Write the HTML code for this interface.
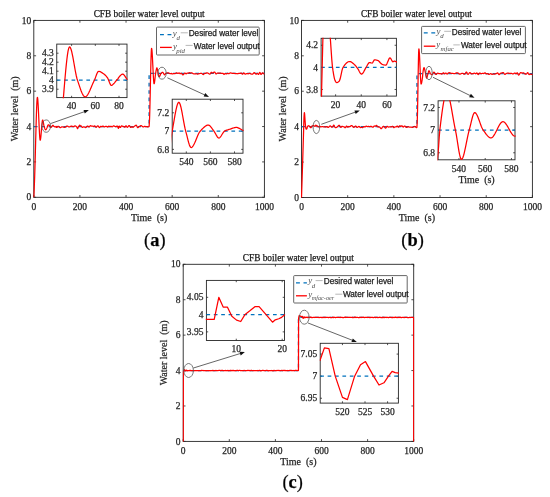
<!DOCTYPE html>
<html><head><meta charset="utf-8"><title>CFB boiler water level output</title>
<style>html,body{margin:0;padding:0;background:#fff;width:550px;height:497px;overflow:hidden}svg{display:block;filter:blur(0.3px)}text{stroke:#262626;stroke-width:0.25px}
</style></head>
<body>
<svg width="550" height="497" viewBox="0 0 550 497"><defs><clipPath id="c1"><rect x="33.2" y="19.8" width="231.8" height="178.1"/></clipPath><clipPath id="c2"><rect x="33.2" y="19.8" width="231.8" height="178.1"/></clipPath><clipPath id="c3"><rect x="56.15" y="43.5" width="71.45" height="54.7"/></clipPath><clipPath id="c4"><rect x="171.6" y="98.6" width="72" height="55.2"/></clipPath><clipPath id="c5"><rect x="300.9" y="19.8" width="232.1" height="178.3"/></clipPath><clipPath id="c6"><rect x="300.9" y="19.8" width="232.1" height="178.3"/></clipPath><clipPath id="c7"><rect x="320.5" y="37.7" width="76.5" height="59"/></clipPath><clipPath id="c8"><rect x="437.5" y="100.2" width="78.1" height="60.2"/></clipPath><clipPath id="c9"><rect x="182.6" y="263.7" width="231.7" height="178.3"/></clipPath><clipPath id="c10"><rect x="182.6" y="263.7" width="231.7" height="178.3"/></clipPath><clipPath id="c11"><rect x="205.8" y="279.8" width="79.3" height="61.3"/></clipPath><clipPath id="c12"><rect x="319.6" y="342.7" width="79.4" height="61"/></clipPath></defs><rect width="550" height="497" fill="#fff"/><g font-family='&quot;Liberation Serif&quot;, &quot;Times New Roman&quot;, serif'><path d="M33.8 197.3V195M33.8 20.4V22.7M79.92 197.3V195M79.92 20.4V22.7M126.04 197.3V195M126.04 20.4V22.7M172.16 197.3V195M172.16 20.4V22.7M218.28 197.3V195M218.28 20.4V22.7M264.4 197.3V195M264.4 20.4V22.7M33.8 197.3H36.1M264.4 197.3H262.1M33.8 161.92H36.1M264.4 161.92H262.1M33.8 126.54H36.1M264.4 126.54H262.1M33.8 91.16H36.1M264.4 91.16H262.1M33.8 55.78H36.1M264.4 55.78H262.1M33.8 20.4H36.1M264.4 20.4H262.1" stroke="#262626" stroke-width="0.8" fill="none"/>
<rect x="33.8" y="20.4" width="230.6" height="176.9" fill="none" stroke="#262626" stroke-width="0.9"/>
<g font-family='&quot;Liberation Serif&quot;, &quot;Times New Roman&quot;, serif' font-size="9.5" fill="#262626">
<text x="33.8" y="209.5" text-anchor="middle">0</text>
<text x="79.92" y="209.5" text-anchor="middle">200</text>
<text x="126.04" y="209.5" text-anchor="middle">400</text>
<text x="172.16" y="209.5" text-anchor="middle">600</text>
<text x="218.28" y="209.5" text-anchor="middle">800</text>
<text x="264.4" y="209.5" text-anchor="middle">1000</text>
<text x="31.2" y="200.44" text-anchor="end">0</text>
<text x="31.2" y="165.06" text-anchor="end">2</text>
<text x="31.2" y="129.68" text-anchor="end">4</text>
<text x="31.2" y="94.3" text-anchor="end">6</text>
<text x="31.2" y="58.91" text-anchor="end">8</text>
<text x="31.2" y="23.54" text-anchor="end">10</text>
</g>
<text x="149.2" y="17" text-anchor="middle" font-family='&quot;Liberation Serif&quot;, &quot;Times New Roman&quot;, serif' font-size="9.3" fill="#111">CFB boiler water level output</text>
<text x="149.1" y="221.3" text-anchor="middle" font-family='&quot;Liberation Serif&quot;, &quot;Times New Roman&quot;, serif' font-size="10" fill="#262626" xml:space="preserve">Time  (s)</text>
<text transform="translate(17.9 108.85) rotate(-90)" text-anchor="middle" font-family='&quot;Liberation Serif&quot;, &quot;Times New Roman&quot;, serif' font-size="10" fill="#262626" xml:space="preserve">Water level  (m)</text>
<polyline points="33.8,126.54 149.1,126.54 149.1,73.47 264.4,73.47" fill="none" stroke="#0072bd" stroke-width="1.3" stroke-linejoin="round" stroke-dasharray="3.7 3.7" clip-path="url(#c1)"/>
<polyline points="33.8,197.3 33.92,194.77 34.03,192.21 34.15,189.61 34.26,186.95 34.38,184.21 34.49,181.38 34.61,178.33 34.72,174.98 34.84,171.37 34.95,167.52 35.07,163.49 35.18,159.3 35.3,154.99 35.41,150.59 35.53,146.14 35.64,141.68 35.76,137.24 35.88,132.86 35.99,128.57 36.11,124.41 36.22,120.41 36.34,116.61 36.45,113.05 36.57,109.77 36.68,106.79 36.8,104.15 36.91,101.89 37.03,100.05 37.14,98.65 37.26,97.75 37.37,97.36 37.49,97.49 37.6,98.02 37.72,98.91 37.84,100.14 37.95,101.67 38.07,103.46 38.18,105.47 38.3,107.68 38.41,110.04 38.53,112.52 38.64,115.09 38.76,117.7 38.87,120.33 38.99,122.94 39.1,125.5 39.22,127.96 39.33,130.29 39.45,132.46 39.56,134.43 39.68,136.17 39.8,137.64 39.91,138.81 40.03,139.63 40.14,140.08 40.26,140.14 40.37,139.9 40.49,139.43 40.6,138.75 40.72,137.88 40.83,136.85 40.95,135.68 41.06,134.41 41.18,133.06 41.29,131.66 41.41,130.22 41.53,128.78 41.64,127.37 41.76,126.01 41.87,124.72 41.99,123.53 42.1,122.47 42.22,121.57 42.33,120.85 42.45,120.33 42.56,120.04 42.68,120.01 42.79,120.15 42.91,120.44 43.02,120.84 43.14,121.35 43.25,121.92 43.37,122.55 43.49,123.21 43.6,123.88 43.72,124.53 43.83,125.15 43.95,125.71 44.06,126.19 44.18,126.57 44.29,126.91 44.41,127.26 44.52,127.61 44.64,127.95 44.75,128.28 44.87,128.6 44.98,128.89 45.1,129.15 45.21,129.38 45.33,129.56 45.45,129.69 45.56,129.77 45.68,129.79 45.79,129.76 45.91,129.68 46.02,129.56 46.14,129.4 46.25,129.21 46.37,129 46.48,128.76 46.6,128.5 46.71,128.24 46.83,127.96 46.94,127.68 47.06,127.41 47.17,127.13 47.29,126.88 47.41,126.63 47.52,126.39 47.64,126.1 47.75,125.79 47.87,125.47 47.98,125.19 48.1,124.96 48.21,124.83 48.33,124.81 48.44,124.83 48.56,124.86 48.67,124.91 48.79,124.97 48.9,125.05 49.02,125.12 49.13,125.21 49.25,125.29 49.37,125.37 49.48,125.46 49.6,125.57 49.71,125.69 49.83,125.82 49.94,125.97 50.06,126.14 50.17,126.39 50.29,126.68 50.4,126.99 50.52,127.26 50.63,127.47 50.75,127.56 50.86,127.54 50.98,127.46 51.09,127.35 51.21,127.22 51.33,127.11 51.44,126.97 51.56,126.82 51.67,126.68 51.79,126.54 51.9,126.4 52.02,126.26 52.13,126.1 52.25,125.95 52.36,125.8 52.48,125.66 52.59,125.54 52.71,125.45 52.82,125.38 52.94,125.34 53.06,125.35 53.17,125.44 53.29,125.58 53.4,125.75 53.52,125.93 53.63,126.11 53.75,126.25 53.86,126.34 53.98,126.41 54.09,126.48 54.21,126.55 54.32,126.61 54.44,126.66 54.55,126.71 54.67,126.75 54.78,126.78 54.9,126.8 55.02,126.81 55.13,126.8 55.25,126.79 55.36,126.77 55.48,126.74 55.59,126.7 55.71,126.65 55.82,126.59 55.94,126.52 56.05,126.45 56.17,126.36 56.28,127.43 56.4,127.47 56.51,127.49 56.63,127.48 56.74,127.45 56.86,127.4 56.98,127.32 57.09,127.21 57.21,127.09 57.32,126.96 57.44,126.83 57.55,126.7 57.67,126.57 57.78,126.47 57.9,126.38 58.01,126.32 58.13,126.29 58.24,126.28 58.36,126.31 58.47,126.35 58.59,126.42 58.7,126.5 58.82,126.6 58.94,126.7 59.05,126.81 59.17,126.92 59.28,127.03 59.4,127.14 59.51,127.24 59.63,127.33 59.74,127.42 59.86,127.49 59.97,127.55 60.09,127.6 60.2,127.62 60.32,127.63 60.43,127.61 60.55,127.58 60.66,127.53 60.78,127.46 60.9,127.39 61.01,127.31 61.13,127.23 61.24,127.15 61.36,127.07 61.47,127 61.59,126.94 61.7,126.89 61.82,126.85 61.93,126.82 62.05,126.8 62.16,126.78 62.28,126.78 62.39,126.78 62.51,126.79 62.62,126.8 62.74,126.83 62.86,126.86 62.97,126.89 63.09,126.93 63.2,126.97 63.32,127.02 63.43,127.07 63.55,127.12 63.66,127.17 63.78,127.22 63.89,127.26 64.01,127.31 64.12,127.35 64.24,127.38 64.35,127.41 64.47,127.43 64.59,127.44 64.7,127.43 64.82,127.42 64.93,127.38 65.05,127.34 65.16,127.27 65.28,127.2 65.39,127.11 65.51,127.02 65.62,126.92 65.74,126.82 65.85,126.72 65.97,126.62 66.08,126.52 66.2,126.43 66.31,126.34 66.43,126.26 66.55,126.19 66.66,126.13 66.78,126.09 66.89,126.05 67.01,126.03 67.12,126.02 67.24,126.03 67.35,126.06 67.47,126.1 67.58,126.15 67.7,126.21 67.81,126.28 67.93,126.36 68.04,126.44 68.16,126.52 68.27,126.6 68.39,126.67 68.51,126.74 68.62,126.8 68.74,126.86 68.85,126.9 68.97,126.94 69.08,126.97 69.2,126.99 69.31,126.99 69.43,126.98 69.54,126.96 69.66,126.93 69.77,126.88 69.89,126.82 70,126.76 70.12,126.69 70.23,126.61 70.35,126.54 70.47,126.46 70.58,126.39 70.7,126.32 70.81,126.26 70.93,126.21 71.04,126.16 71.16,126.12 71.27,126.09 71.39,126.08 71.5,126.07 71.62,126.08 71.73,126.1 71.85,126.13 71.96,126.18 72.08,126.24 72.19,126.31 72.31,126.38 72.43,126.46 72.54,126.53 72.66,126.59 72.77,126.65 72.89,126.69 73,126.71 73.12,126.71 73.23,126.7 73.35,126.67 73.46,126.63 73.58,126.57 73.69,126.51 73.81,126.44 73.92,126.37 74.04,126.3 74.15,126.23 74.27,126.17 74.39,126.11 74.5,126.05 74.62,126.01 74.73,125.97 74.85,125.94 74.96,125.93 75.08,125.92 75.19,125.93 75.31,125.95 75.42,125.99 75.54,126.03 75.65,126.09 75.77,126.16 75.88,126.24 76,126.32 76.12,126.41 76.23,126.49 76.35,126.59 76.46,126.69 76.58,126.8 76.69,126.93 76.81,127.1 76.92,127.31 77.04,127.56 77.15,127.85 77.27,128.14 77.38,128.4 77.5,128.56 77.61,128.59 77.73,128.48 77.84,128.25 77.96,127.93 78.08,127.58 78.19,127.24 78.31,126.95 78.42,126.71 78.54,126.53 78.65,126.39 78.77,126.28 78.88,126.17 79,126.04 79.11,125.89 79.23,125.71 79.34,125.52 79.46,125.36 79.57,125.24 79.69,125.2 79.8,125.24 79.92,125.34 80.04,125.49 80.15,125.63 80.27,125.75 80.38,125.83 80.5,125.86 80.61,125.87 80.73,125.87 80.84,125.86 80.96,125.87 81.07,125.91 81.19,125.99 81.3,126.11 81.42,126.25 81.53,126.4 81.65,126.57 81.76,126.74 81.88,126.9 82,127.05 82.11,127.17 82.23,127.27 82.34,127.32 82.46,127.34 82.57,127.33 82.69,127.3 82.8,127.25 82.92,127.19 83.03,127.12 83.15,127.04 83.26,126.97 83.38,126.91 83.49,126.87 83.61,126.83 83.72,126.81 83.84,126.81 83.96,126.81 84.07,126.83 84.19,126.86 84.3,126.9 84.42,126.95 84.53,127.01 84.65,127.09 84.76,127.16 84.88,127.24 84.99,127.32 85.11,127.39 85.22,127.45 85.34,127.5 85.45,127.53 85.57,127.54 85.68,127.52 85.8,127.48 85.92,127.41 86.03,127.32 86.15,127.21 86.26,127.09 86.38,126.96 86.49,126.83 86.61,126.7 86.72,126.58 86.84,126.47 86.95,126.37 87.07,126.29 87.18,126.22 87.3,126.17 87.41,126.13 87.53,126.11 87.65,126.12 87.76,126.14 87.88,126.18 87.99,126.24 88.11,126.32 88.22,126.42 88.34,126.53 88.45,126.63 88.57,126.74 88.68,126.83 88.8,126.9 88.91,126.95 89.03,126.98 89.14,126.96 89.26,126.9 89.37,126.81 89.49,126.69 89.61,126.55 89.72,126.4 89.84,126.24 89.95,126.09 90.07,125.96 90.18,125.84 90.3,125.76 90.41,125.71 90.53,125.69 90.64,125.7 90.76,125.73 90.87,125.77 90.99,125.83 91.1,125.9 91.22,125.96 91.33,126.02 91.45,126.07 91.57,126.11 91.68,126.14 91.8,126.16 91.91,126.16 92.03,126.17 92.14,126.17 92.26,126.17 92.37,126.17 92.49,126.17 92.6,126.18 92.72,126.2 92.83,126.23 92.95,126.26 93.06,126.29 93.18,126.31 93.29,126.34 93.41,126.35 93.53,126.35 93.64,126.34 93.76,126.31 93.87,126.27 93.99,126.21 94.1,126.14 94.22,126.08 94.33,126.01 94.45,125.96 94.56,125.93 94.68,125.92 94.79,125.94 94.91,126 95.02,126.09 95.14,126.22 95.25,126.37 95.37,126.54 95.49,126.71 95.6,126.87 95.72,127.02 95.83,127.15 95.95,127.24 96.06,127.29 96.18,127.3 96.29,127.25 96.41,127.17 96.52,127.06 96.64,126.93 96.75,126.78 96.87,126.63 96.98,126.47 97.1,126.32 97.22,126.19 97.33,126.08 97.45,125.99 97.56,125.93 97.68,125.89 97.79,125.88 97.91,125.89 98.02,125.92 98.14,125.99 98.25,126.08 98.37,126.2 98.48,126.34 98.6,126.51 98.71,126.69 98.83,126.87 98.94,127.05 99.06,127.21 99.18,127.34 99.29,127.45 99.41,127.52 99.52,127.54 99.64,127.51 99.75,127.43 99.87,127.31 99.98,127.17 100.1,127.01 100.21,126.85 100.33,126.69 100.44,126.55 100.56,126.43 100.67,126.34 100.79,126.3 100.9,126.3 101.02,126.33 101.14,126.37 101.25,126.44 101.37,126.51 101.48,126.57 101.6,126.63 101.71,126.67 101.83,126.68 101.94,126.66 102.06,126.62 102.17,126.56 102.29,126.48 102.4,126.39 102.52,126.31 102.63,126.23 102.75,126.16 102.86,126.12 102.98,126.1 103.1,126.11 103.21,126.15 103.33,126.21 103.44,126.29 103.56,126.38 103.67,126.47 103.79,126.56 103.9,126.65 104.02,126.73 104.13,126.79 104.25,126.83 104.36,126.85 104.48,126.85 104.59,126.83 104.71,126.81 104.82,126.77 104.94,126.72 105.06,126.67 105.17,126.61 105.29,126.55 105.4,126.49 105.52,126.44 105.63,126.38 105.75,126.34 105.86,126.3 105.98,126.28 106.09,126.27 106.21,126.28 106.32,126.3 106.44,126.35 106.55,126.41 106.67,126.49 106.78,126.59 106.9,126.69 107.02,126.78 107.13,126.87 107.25,126.95 107.36,127 107.48,127.04 107.59,127.04 107.71,127 107.82,126.94 107.94,126.85 108.05,126.75 108.17,126.63 108.28,126.52 108.4,126.42 108.51,126.32 108.63,126.25 108.74,126.2 108.86,126.19 108.98,126.2 109.09,126.24 109.21,126.29 109.32,126.35 109.44,126.42 109.55,126.48 109.67,126.54 109.78,126.58 109.9,126.6 110.01,126.59 110.13,126.57 110.24,126.52 110.36,126.47 110.47,126.41 110.59,126.36 110.71,126.31 110.82,126.27 110.94,126.26 111.05,126.26 111.17,126.29 111.28,126.35 111.4,126.42 111.51,126.51 111.63,126.59 111.74,126.67 111.86,126.75 111.97,126.8 112.09,126.83 112.2,126.84 112.32,126.8 112.43,126.74 112.55,126.66 112.67,126.55 112.78,126.44 112.9,126.32 113.01,126.2 113.13,126.09 113.24,126 113.36,125.93 113.47,125.88 113.59,125.85 113.7,125.85 113.82,125.86 113.93,125.89 114.05,125.94 114.16,125.99 114.28,126.06 114.39,126.13 114.51,126.2 114.63,126.27 114.74,126.34 114.86,126.4 114.97,126.46 115.09,126.52 115.2,126.57 115.32,126.6 115.43,126.63 115.55,126.64 115.66,126.64 115.78,126.62 115.89,126.6 116.01,126.55 116.12,126.51 116.24,126.45 116.35,126.39 116.47,126.34 116.59,126.28 116.7,126.23 116.82,126.18 116.93,126.15 117.05,126.12 117.16,126.11 117.28,126.12 117.39,126.15 117.51,126.23 117.62,126.38 117.74,126.61 117.85,126.93 117.97,127.32 118.08,127.72 118.2,128.07 118.31,128.29 118.43,128.32 118.55,128.14 118.66,127.79 118.78,127.33 118.89,126.86 119.01,126.46 119.12,126.2 119.24,126.08 119.35,126.1 119.47,126.22 119.58,126.4 119.7,126.62 119.81,126.85 119.93,127.06 120.04,127.23 120.16,127.36 120.27,127.43 120.39,127.43 120.51,127.36 120.62,127.25 120.74,127.09 120.85,126.91 120.97,126.72 121.08,126.52 121.2,126.33 121.31,126.17 121.43,126.04 121.54,125.95 121.66,125.91 121.77,125.9 121.89,125.92 122,125.96 122.12,126.02 122.24,126.08 122.35,126.15 122.47,126.22 122.58,126.28 122.7,126.32 122.81,126.35 122.93,126.38 123.04,126.4 123.16,126.41 123.27,126.43 123.39,126.46 123.5,126.49 123.62,126.53 123.73,126.59 123.85,126.67 123.96,126.76 124.08,126.86 124.2,126.95 124.31,127.04 124.43,127.11 124.54,127.16 124.66,127.18 124.77,127.17 124.89,127.11 125,127.01 125.12,126.87 125.23,126.71 125.35,126.53 125.46,126.35 125.58,126.18 125.69,126.03 125.81,125.92 125.92,125.85 126.04,125.83 126.16,125.87 126.27,125.97 126.39,126.12 126.5,126.29 126.62,126.48 126.73,126.67 126.85,126.86 126.96,127.03 127.08,127.16 127.19,127.25 127.31,127.29 127.42,127.28 127.54,127.22 127.65,127.13 127.77,127.01 127.88,126.87 128,126.71 128.12,126.55 128.23,126.38 128.35,126.22 128.46,126.07 128.58,125.94 128.69,125.83 128.81,125.73 128.92,125.67 129.04,125.63 129.15,125.62 129.27,125.64 129.38,125.7 129.5,125.8 129.61,125.94 129.73,126.11 129.84,126.31 129.96,126.51 130.08,126.72 130.19,126.92 130.31,127.1 130.42,127.26 130.54,127.37 130.65,127.45 130.77,127.46 130.88,127.43 131,127.37 131.11,127.28 131.23,127.17 131.34,127.05 131.46,126.94 131.57,126.83 131.69,126.76 131.8,126.71 131.92,126.71 132.04,126.74 132.15,126.79 132.27,126.87 132.38,126.95 132.5,127.04 132.61,127.13 132.73,127.2 132.84,127.26 132.96,127.28 133.07,127.27 133.19,127.23 133.3,127.17 133.42,127.08 133.53,126.98 133.65,126.86 133.77,126.75 133.88,126.63 134,126.51 134.11,126.4 134.23,126.31 134.34,126.22 134.46,126.15 134.57,126.08 134.69,126.02 134.8,125.96 134.92,125.9 135.03,125.83 135.15,125.76 135.26,125.68 135.38,125.59 135.49,125.5 135.61,125.41 135.73,125.33 135.84,125.27 135.96,125.22 136.07,125.21 136.19,125.23 136.3,125.29 136.42,125.39 136.53,125.55 136.65,125.76 136.76,125.99 136.88,126.24 136.99,126.51 137.11,126.77 137.22,127.01 137.34,127.23 137.45,127.41 137.57,127.55 137.69,127.62 137.8,127.65 137.92,127.63 138.03,127.57 138.15,127.48 138.26,127.37 138.38,127.25 138.49,127.12 138.61,126.99 138.72,126.87 138.84,126.76 138.95,126.66 139.07,126.58 139.18,126.5 139.3,126.44 139.41,126.38 139.53,126.32 139.65,126.26 139.76,126.2 139.88,126.14 139.99,126.08 140.11,126.01 140.22,125.94 140.34,125.87 140.45,125.81 140.57,125.76 140.68,125.71 140.8,125.67 140.91,125.65 141.03,125.65 141.14,125.66 141.26,125.69 141.37,125.73 141.49,125.78 141.61,125.85 141.72,125.93 141.84,126.01 141.95,126.1 142.07,126.2 142.18,126.3 142.3,126.4 142.41,126.5 142.53,126.6 142.64,126.69 142.76,126.77 142.87,126.84 142.99,126.9 143.1,126.94 143.22,126.96 143.33,126.96 143.45,126.94 143.57,126.9 143.68,126.84 143.8,126.77 143.91,126.69 144.03,126.62 144.14,126.54 144.26,126.47 144.37,126.41 144.49,126.37 144.6,126.35 144.72,126.34 144.83,126.35 144.95,126.36 145.06,126.39 145.18,126.42 145.3,126.46 145.41,126.49 145.53,126.52 145.64,126.55 145.76,126.57 145.87,126.58 145.99,126.59 146.1,126.59 146.22,126.59 146.33,126.6 146.45,126.6 146.56,126.61 146.68,126.63 146.79,126.66 146.91,126.69 147.02,126.73 147.14,126.78 147.26,126.82 147.37,126.87 147.49,126.91 147.6,126.94 147.72,126.96 147.83,126.97 147.95,126.96 148.06,126.93 148.18,126.88 148.29,126.82 148.41,126.75 148.52,126.67 148.64,126.59 148.75,126.51 148.87,126.44 148.98,126.37 149.1,126.54 149.22,125.01 149.33,123.28 149.45,121.23 149.56,118.62 149.68,115.33 149.79,111.44 149.91,107.06 150.02,102.29 150.14,97.22 150.25,91.95 150.37,86.58 150.48,81.2 150.6,75.91 150.71,70.81 150.83,65.99 150.94,61.56 151.06,57.61 151.18,54.23 151.29,51.53 151.41,49.59 151.52,48.53 151.64,48.39 151.75,48.77 151.87,49.54 151.98,50.66 152.1,52.09 152.21,53.79 152.33,55.71 152.44,57.81 152.56,60.06 152.67,62.41 152.79,64.82 152.9,67.26 153.02,69.67 153.14,72.02 153.25,74.27 153.37,76.37 153.48,78.29 153.6,79.99 153.71,81.42 153.83,82.54 153.94,83.31 154.06,83.69 154.17,83.68 154.29,83.42 154.4,82.94 154.52,82.29 154.63,81.5 154.75,80.59 154.86,79.61 154.98,78.57 155.1,77.53 155.21,76.5 155.33,75.53 155.44,74.64 155.56,73.86 155.67,73.22 155.79,72.57 155.9,71.9 156.02,71.21 156.13,70.54 156.25,69.91 156.36,69.32 156.48,68.81 156.59,68.4 156.71,68.1 156.83,67.93 156.94,67.91 157.06,68.07 157.17,68.37 157.29,68.8 157.4,69.32 157.52,69.91 157.63,70.55 157.75,71.21 157.86,71.85 157.98,72.46 158.09,73.01 158.21,73.47 158.32,73.9 158.44,74.37 158.55,74.84 158.67,75.3 158.79,75.73 158.9,76.1 159.02,76.39 159.13,76.59 159.25,76.65 159.36,76.62 159.48,76.53 159.59,76.39 159.71,76.2 159.82,75.98 159.94,75.73 160.05,75.46 160.17,75.18 160.28,74.89 160.4,74.61 160.51,74.33 160.63,74.08 160.75,73.85 160.86,73.65 160.98,73.5 161.09,73.37 161.21,73.25 161.32,73.12 161.44,73 161.55,72.89 161.67,72.78 161.78,72.67 161.9,72.58 162.01,72.49 162.13,72.42 162.24,72.37 162.36,72.33 162.47,72.31 162.59,72.31 162.71,72.35 162.82,72.43 162.94,72.55 163.05,72.69 163.17,72.85 163.28,73.02 163.4,73.19 163.51,73.35 163.63,73.5 163.74,73.67 163.86,73.88 163.97,74.1 164.09,74.31 164.2,74.51 164.32,74.67 164.43,74.77 164.55,74.81 164.67,74.78 164.78,74.68 164.9,74.54 165.01,74.37 165.13,74.18 165.24,73.99 165.36,73.8 165.47,73.64 165.59,73.52 165.7,73.45 165.82,73.39 165.93,73.34 166.05,73.3 166.16,73.26 166.28,73.22 166.39,73.19 166.51,73.15 166.63,73.12 166.74,73.08 166.86,73.04 166.97,72.99 167.09,72.95 167.2,72.91 167.32,72.87 167.43,72.83 167.55,72.81 167.66,72.78 167.78,72.77 167.89,72.76 168.01,72.77 168.12,72.8 168.24,72.84 168.36,72.89 168.47,72.95 168.59,73.01 168.7,73.08 168.82,73.14 168.93,73.2 169.05,73.26 169.16,73.3 169.28,73.34 169.39,73.39 169.51,73.44 169.62,73.48 169.74,73.53 169.85,73.57 169.97,73.6 170.08,73.62 170.2,73.64 170.32,73.65 170.43,73.64 170.55,73.64 170.66,73.63 170.78,73.61 170.89,73.59 171.01,73.56 171.12,73.52 171.24,73.48 171.35,73.44 171.47,73.38 171.58,73.52 171.7,73.62 171.81,73.72 171.93,73.81 172.04,73.89 172.16,73.94 172.28,73.97 172.39,73.97 172.51,73.95 172.62,73.91 172.74,73.87 172.85,73.82 172.97,73.76 173.08,73.71 173.2,73.66 173.31,73.62 173.43,73.6 173.54,73.59 173.66,73.58 173.77,73.59 173.89,73.6 174,73.61 174.12,73.63 174.24,73.65 174.35,73.66 174.47,73.67 174.58,73.67 174.7,73.67 174.81,73.65 174.93,73.63 175.04,73.61 175.16,73.57 175.27,73.53 175.39,73.48 175.5,73.43 175.62,73.36 175.73,73.29 175.85,73.21 175.96,73.13 176.08,73.06 176.2,72.99 176.31,72.93 176.43,72.88 176.54,72.85 176.66,72.84 176.77,72.85 176.89,72.89 177,72.95 177.12,73.02 177.23,73.1 177.35,73.19 177.46,73.27 177.58,73.35 177.69,73.41 177.81,73.45 177.92,73.46 178.04,73.44 178.16,73.4 178.27,73.33 178.39,73.26 178.5,73.18 178.62,73.1 178.73,73.03 178.85,72.98 178.96,72.95 179.08,72.95 179.19,72.98 179.31,73.05 179.42,73.13 179.54,73.23 179.65,73.34 179.77,73.44 179.89,73.54 180,73.62 180.12,73.68 180.23,73.71 180.35,73.7 180.46,73.66 180.58,73.6 180.69,73.53 180.81,73.45 180.92,73.38 181.04,73.32 181.15,73.27 181.27,73.26 181.38,73.28 181.5,73.35 181.61,73.46 181.73,73.59 181.85,73.74 181.96,73.91 182.08,74.09 182.19,74.26 182.31,74.42 182.42,74.56 182.54,74.68 182.65,74.76 182.77,74.82 182.88,74.84 183,74.83 183.11,74.8 183.23,74.74 183.34,74.66 183.46,74.55 183.57,74.43 183.69,74.29 183.81,74.14 183.92,73.97 184.04,73.8 184.15,73.63 184.27,73.48 184.38,73.33 184.5,73.21 184.61,73.11 184.73,73.05 184.84,73.02 184.96,73.04 185.07,73.09 185.19,73.17 185.3,73.27 185.42,73.38 185.53,73.49 185.65,73.6 185.77,73.69 185.88,73.76 186,73.8 186.11,73.81 186.23,73.78 186.34,73.73 186.46,73.65 186.57,73.56 186.69,73.47 186.8,73.37 186.92,73.28 187.03,73.2 187.15,73.14 187.26,73.1 187.38,73.09 187.49,73.08 187.61,73.09 187.73,73.11 187.84,73.13 187.96,73.15 188.07,73.17 188.19,73.17 188.3,73.16 188.42,73.14 188.53,73.1 188.65,73.05 188.76,72.99 188.88,72.93 188.99,72.88 189.11,72.82 189.22,72.77 189.34,72.74 189.45,72.72 189.57,72.72 189.69,72.74 189.8,72.76 189.92,72.8 190.03,72.84 190.15,72.88 190.26,72.93 190.38,72.96 190.49,72.99 190.61,73.01 190.72,73.01 190.84,73 190.95,72.99 191.07,72.96 191.18,72.94 191.3,72.92 191.42,72.9 191.53,72.88 191.65,72.88 191.76,72.89 191.88,72.92 191.99,72.97 192.11,73.02 192.22,73.09 192.34,73.16 192.45,73.24 192.57,73.31 192.68,73.39 192.8,73.47 192.91,73.53 193.03,73.59 193.14,73.64 193.26,73.69 193.38,73.73 193.49,73.76 193.61,73.79 193.72,73.81 193.84,73.83 193.95,73.85 194.07,73.87 194.18,73.88 194.3,73.89 194.41,73.9 194.53,73.91 194.64,73.91 194.76,73.92 194.87,73.91 194.99,73.91 195.1,73.9 195.22,73.88 195.34,73.86 195.45,73.84 195.57,73.82 195.68,73.79 195.8,73.77 195.91,73.75 196.03,73.74 196.14,73.73 196.26,73.73 196.37,73.75 196.49,73.77 196.6,73.81 196.72,73.85 196.83,73.89 196.95,73.94 197.06,73.99 197.18,74.03 197.3,74.07 197.41,74.09 197.53,74.11 197.64,74.11 197.76,74.1 197.87,74.08 197.99,74.04 198.1,74.01 198.22,73.96 198.33,73.92 198.45,73.87 198.56,73.82 198.68,73.78 198.79,73.74 198.91,73.71 199.02,73.68 199.14,73.65 199.26,73.63 199.37,73.61 199.49,73.58 199.6,73.56 199.72,73.54 199.83,73.52 199.95,73.5 200.06,73.48 200.18,73.45 200.29,73.43 200.41,73.41 200.52,73.39 200.64,73.37 200.75,73.35 200.87,73.34 200.98,73.33 201.1,73.32 201.22,73.32 201.33,73.32 201.45,73.34 201.56,73.36 201.68,73.39 201.79,73.44 201.91,73.5 202.02,73.57 202.14,73.66 202.25,73.77 202.37,73.89 202.48,74.01 202.6,74.13 202.71,74.25 202.83,74.36 202.95,74.45 203.06,74.52 203.18,74.56 203.29,74.56 203.41,74.52 203.52,74.46 203.64,74.36 203.75,74.25 203.87,74.12 203.98,73.98 204.1,73.85 204.21,73.72 204.33,73.61 204.44,73.51 204.56,73.44 204.67,73.4 204.79,73.37 204.91,73.36 205.02,73.35 205.14,73.36 205.25,73.36 205.37,73.36 205.48,73.36 205.6,73.34 205.71,73.31 205.83,73.27 205.94,73.22 206.06,73.16 206.17,73.1 206.29,73.04 206.4,72.98 206.52,72.93 206.63,72.89 206.75,72.86 206.87,72.84 206.98,72.83 207.1,72.84 207.21,72.86 207.33,72.89 207.44,72.93 207.56,72.97 207.67,73.03 207.79,73.08 207.9,73.14 208.02,73.21 208.13,73.27 208.25,73.34 208.36,73.41 208.48,73.48 208.59,73.55 208.71,73.62 208.83,73.69 208.94,73.76 209.06,73.83 209.17,73.9 209.29,73.97 209.4,74.02 209.52,74.06 209.63,74.09 209.75,74.1 209.86,74.09 209.98,74.05 210.09,73.98 210.21,73.88 210.32,73.74 210.44,73.58 210.55,73.4 210.67,73.21 210.79,73.01 210.9,72.83 211.02,72.66 211.13,72.51 211.25,72.4 211.36,72.33 211.48,72.31 211.59,72.34 211.71,72.39 211.82,72.48 211.94,72.58 212.05,72.69 212.17,72.8 212.28,72.9 212.4,72.98 212.51,73.04 212.63,73.07 212.75,73.07 212.86,73.04 212.98,72.99 213.09,72.92 213.21,72.83 213.32,72.74 213.44,72.64 213.55,72.53 213.67,72.43 213.78,72.34 213.9,72.25 214.01,72.17 214.13,72.11 214.24,72.07 214.36,72.05 214.48,72.06 214.59,72.09 214.71,72.16 214.82,72.26 214.94,72.4 215.05,72.57 215.17,72.77 215.28,72.97 215.4,73.17 215.51,73.37 215.63,73.56 215.74,73.72 215.86,73.85 215.97,73.93 216.09,73.97 216.2,73.96 216.32,73.92 216.44,73.85 216.55,73.76 216.67,73.66 216.78,73.55 216.9,73.44 217.01,73.34 217.13,73.25 217.24,73.19 217.36,73.15 217.47,73.13 217.59,73.12 217.7,73.12 217.82,73.13 217.93,73.15 218.05,73.17 218.16,73.19 218.28,73.21 218.4,73.22 218.51,73.23 218.63,73.23 218.74,73.22 218.86,73.21 218.97,73.2 219.09,73.19 219.2,73.18 219.32,73.17 219.43,73.15 219.55,73.14 219.66,73.13 219.78,73.12 219.89,73.12 220.01,73.12 220.12,73.12 220.24,73.12 220.36,73.13 220.47,73.15 220.59,73.16 220.7,73.19 220.82,73.21 220.93,73.24 221.05,73.27 221.16,73.29 221.28,73.32 221.39,73.34 221.51,73.35 221.62,73.36 221.74,73.36 221.85,73.34 221.97,73.32 222.08,73.3 222.2,73.28 222.32,73.26 222.43,73.25 222.55,73.26 222.66,73.27 222.78,73.31 222.89,73.37 223.01,73.46 223.12,73.56 223.24,73.68 223.35,73.81 223.47,73.93 223.58,74.05 223.7,74.16 223.81,74.24 223.93,74.3 224.04,74.32 224.16,74.31 224.28,74.26 224.39,74.18 224.51,74.09 224.62,73.99 224.74,73.88 224.85,73.78 224.97,73.69 225.08,73.61 225.2,73.56 225.31,73.55 225.43,73.56 225.54,73.59 225.66,73.63 225.77,73.69 225.89,73.75 226.01,73.8 226.12,73.85 226.24,73.88 226.35,73.89 226.47,73.88 226.58,73.84 226.7,73.79 226.81,73.73 226.93,73.66 227.04,73.59 227.16,73.52 227.27,73.46 227.39,73.42 227.5,73.4 227.62,73.4 227.73,73.42 227.85,73.46 227.97,73.5 228.08,73.56 228.2,73.61 228.31,73.66 228.43,73.7 228.54,73.73 228.66,73.73 228.77,73.72 228.89,73.69 229,73.63 229.12,73.57 229.23,73.5 229.35,73.42 229.46,73.34 229.58,73.26 229.69,73.19 229.81,73.12 229.93,73.07 230.04,73.02 230.16,72.99 230.27,72.97 230.39,72.96 230.5,72.95 230.62,72.96 230.73,72.97 230.85,72.98 230.96,73.01 231.08,73.03 231.19,73.06 231.31,73.09 231.42,73.13 231.54,73.16 231.65,73.19 231.77,73.22 231.89,73.25 232,73.28 232.12,73.3 232.23,73.31 232.35,73.32 232.46,73.32 232.58,73.32 232.69,73.32 232.81,73.31 232.92,73.31 233.04,73.3 233.15,73.3 233.27,73.29 233.38,73.29 233.5,73.29 233.61,73.29 233.73,73.3 233.85,73.31 233.96,73.32 234.08,73.34 234.19,73.36 234.31,73.39 234.42,73.42 234.54,73.45 234.65,73.49 234.77,73.53 234.88,73.57 235,73.61 235.11,73.65 235.23,73.68 235.34,73.7 235.46,73.72 235.57,73.72 235.69,73.72 235.81,73.71 235.92,73.69 236.04,73.66 236.15,73.63 236.27,73.61 236.38,73.59 236.5,73.57 236.61,73.56 236.73,73.56 236.84,73.58 236.96,73.6 237.07,73.63 237.19,73.66 237.3,73.69 237.42,73.72 237.54,73.75 237.65,73.76 237.77,73.76 237.88,73.75 238,73.72 238.11,73.67 238.23,73.62 238.34,73.55 238.46,73.48 238.57,73.42 238.69,73.36 238.8,73.31 238.92,73.27 239.03,73.25 239.15,73.25 239.26,73.27 239.38,73.3 239.5,73.33 239.61,73.37 239.73,73.41 239.84,73.44 239.96,73.47 240.07,73.47 240.19,73.46 240.3,73.43 240.42,73.38 240.53,73.32 240.65,73.25 240.76,73.19 240.88,73.14 240.99,73.1 241.11,73.08 241.22,73.09 241.34,73.14 241.46,73.23 241.57,73.35 241.69,73.49 241.8,73.64 241.92,73.79 242.03,73.93 242.15,74.06 242.26,74.16 242.38,74.21 242.49,74.22 242.61,74.18 242.72,74.08 242.84,73.95 242.95,73.79 243.07,73.62 243.18,73.45 243.3,73.29 243.42,73.15 243.53,73.03 243.65,72.97 243.76,72.95 243.88,72.98 243.99,73.05 244.11,73.15 244.22,73.27 244.34,73.4 244.45,73.54 244.57,73.67 244.68,73.8 244.8,73.9 244.91,73.98 245.03,74.03 245.14,74.06 245.26,74.08 245.38,74.07 245.49,74.05 245.61,74.02 245.72,73.98 245.84,73.93 245.95,73.89 246.07,73.84 246.18,73.79 246.3,73.74 246.41,73.7 246.53,73.66 246.64,73.63 246.76,73.6 246.87,73.58 246.99,73.58 247.1,73.58 247.22,73.6 247.34,73.62 247.45,73.66 247.57,73.69 247.68,73.73 247.8,73.76 247.91,73.78 248.03,73.8 248.14,73.8 248.26,73.79 248.37,73.76 248.49,73.71 248.6,73.66 248.72,73.6 248.83,73.53 248.95,73.47 249.07,73.41 249.18,73.36 249.3,73.32 249.41,73.31 249.53,73.31 249.64,73.33 249.76,73.37 249.87,73.41 249.99,73.47 250.1,73.54 250.22,73.6 250.33,73.67 250.45,73.74 250.56,73.8 250.68,73.84 250.79,73.89 250.91,73.92 251.03,73.95 251.14,73.98 251.26,74 251.37,74.02 251.49,74.04 251.6,74.05 251.72,74.08 251.83,74.1 251.95,74.12 252.06,74.14 252.18,74.15 252.29,74.16 252.41,74.15 252.52,74.13 252.64,74.09 252.75,74.03 252.87,73.95 252.99,73.84 253.1,73.71 253.22,73.57 253.33,73.43 253.45,73.28 253.56,73.13 253.68,73 253.79,72.88 253.91,72.79 254.02,72.73 254.14,72.7 254.25,72.7 254.37,72.73 254.48,72.79 254.6,72.87 254.71,72.96 254.83,73.07 254.95,73.19 255.06,73.32 255.18,73.44 255.29,73.57 255.41,73.69 255.52,73.81 255.64,73.91 255.75,74 255.87,74.07 255.98,74.13 256.1,74.15 256.21,74.16 256.33,74.13 256.44,74.07 256.56,73.99 256.67,73.89 256.79,73.79 256.91,73.68 257.02,73.59 257.14,73.51 257.25,73.46 257.37,73.44 257.48,73.47 257.6,73.54 257.71,73.65 257.83,73.78 257.94,73.93 258.06,74.08 258.17,74.21 258.29,74.32 258.4,74.39 258.52,74.4 258.63,74.35 258.75,74.23 258.87,74.04 258.98,73.81 259.1,73.56 259.21,73.3 259.33,73.04 259.44,72.81 259.56,72.63 259.67,72.5 259.79,72.46 259.9,72.5 260.02,72.62 260.13,72.8 260.25,73.03 260.36,73.28 260.48,73.54 260.6,73.79 260.71,74.02 260.83,74.21 260.94,74.33 261.06,74.39 261.17,74.37 261.29,74.31 261.4,74.19 261.52,74.05 261.63,73.88 261.75,73.7 261.86,73.52 261.98,73.35 262.09,73.2 262.21,73.08 262.32,72.99 262.44,72.93 262.56,72.9 262.67,72.89 262.79,72.9 262.9,72.94 263.02,73 263.13,73.07 263.25,73.16 263.36,73.27 263.48,73.38 263.59,73.51 263.71,73.64 263.82,73.77 263.94,73.89 264.05,74.01 264.17,74.12 264.28,74.21 264.4,74.29" fill="none" stroke="#ff0000" stroke-width="1.25" stroke-linejoin="round" clip-path="url(#c2)"/>
<rect x="156.5" y="27.1" width="102.7" height="27.9" rx="0.8" fill="#fff" stroke="#555" stroke-width="0.9"/>
<line x1="160" y1="34.7" x2="171.5" y2="34.7" stroke="#0072bd" stroke-width="1.3" stroke-dasharray="3.9 3.6"/>
<text x="172.8" y="35.8" font-style="italic" font-size="8.9" fill="#505050" style="stroke:none">y</text>
<text x="176.6" y="39.7" font-style="italic" font-size="6.8" fill="#505050" style="stroke:none">d</text>
<line x1="180.7" y1="32.8" x2="187.8" y2="32.8" stroke="#9a9a9a" stroke-width="0.7"/>
<text x="188.7" y="35.8" font-family='&quot;Liberation Sans&quot;, Arial, sans-serif' font-size="8.2" fill="#111">Desired water level</text>
<line x1="160" y1="47.4" x2="171.8" y2="47.4" stroke="#ff0000" stroke-width="1.3"/>
<text x="173" y="48.9" font-style="italic" font-size="8.9" fill="#505050" style="stroke:none">y</text>
<text x="176.3" y="52.6" font-style="italic" font-size="6.8" fill="#505050" style="stroke:none">pid</text>
<line x1="185.6" y1="45.4" x2="192.7" y2="45.4" stroke="#9a9a9a" stroke-width="0.7"/>
<text x="193.8" y="48.5" font-family='&quot;Liberation Sans&quot;, Arial, sans-serif' font-size="8.2" fill="#111">Water level output</text>
<rect x="56.75" y="44.1" width="70.25" height="53.5" fill="#fff"/>
<path d="M71.6 97.6V95.8M71.6 44.1V45.9M95.3 97.6V95.8M95.3 44.1V45.9M119 97.6V95.8M119 44.1V45.9M56.75 89.22H58.55M127 89.22H125.2M56.75 80.22H58.55M127 80.22H125.2M56.75 71.21H58.55M127 71.21H125.2M56.75 62.2H58.55M127 62.2H125.2M56.75 53.2H58.55M127 53.2H125.2" stroke="#262626" stroke-width="0.8" fill="none"/>
<rect x="56.75" y="44.1" width="70.25" height="53.5" fill="none" stroke="#262626" stroke-width="0.9"/>
<line x1="56.75" y1="80.22" x2="127" y2="80.22" stroke="#0072bd" stroke-width="1.3" stroke-dasharray="3.7 3.7"/>
<polyline points="53.23,110.35 53.82,120.4 54.42,129.25 55.01,136.73 55.6,142.67 56.19,146.88 56.79,149.18 57.38,149.46 57.97,148.26 58.56,145.85 59.16,142.37 59.75,137.94 60.34,132.69 60.93,126.77 61.53,120.31 62.12,113.43 62.71,106.27 63.3,98.96 63.9,91.65 64.49,84.45 65.08,77.5 65.67,70.94 66.27,64.9 66.86,59.51 67.45,54.91 68.04,51.22 68.64,48.59 69.23,47.14 69.82,46.96 70.41,47.7 71.01,49.15 71.6,51.21 72.19,53.77 72.78,56.7 73.38,59.91 73.97,63.26 74.56,66.67 75.15,70 75.75,73.15 76.34,76 76.93,78.45 77.52,80.39 78.12,82.12 78.71,83.89 79.3,85.66 79.89,87.41 80.49,89.1 81.08,90.7 81.67,92.19 82.26,93.52 82.86,94.66 83.45,95.59 84.04,96.28 84.63,96.69 85.23,96.78 85.82,96.61 86.41,96.2 87,95.58 87.6,94.78 88.19,93.82 88.78,92.72 89.37,91.51 89.97,90.21 90.56,88.85 91.15,87.45 91.74,86.03 92.34,84.62 92.93,83.25 93.52,81.93 94.11,80.69 94.71,79.46 95.3,77.99 95.89,76.38 96.48,74.77 97.08,73.32 97.67,72.19 98.26,71.51 98.85,71.4 99.45,71.49 100.04,71.67 100.63,71.93 101.23,72.24 101.82,72.61 102.41,73.01 103,73.42 103.6,73.84 104.19,74.26 104.78,74.74 105.37,75.28 105.97,75.89 106.56,76.56 107.15,77.29 107.74,78.17 108.34,79.44 108.93,80.95 109.52,82.5 110.11,83.89 110.71,84.93 111.3,85.43 111.89,85.32 112.48,84.91 113.08,84.32 113.67,83.69 114.26,83.1 114.85,82.41 115.45,81.66 116.04,80.91 116.63,80.22 117.22,79.53 117.82,78.78 118.41,78 119,77.21 119.59,76.46 120.19,75.76 120.78,75.14 121.37,74.64 121.96,74.29 122.56,74.11 123.15,74.17 123.74,74.6 124.33,75.31 124.93,76.19 125.52,77.12 126.11,78.01 126.7,78.74 127.3,79.21 127.89,79.57 128.48,79.92 129.07,80.25 129.67,80.56 130.26,80.84" fill="none" stroke="#ff0000" stroke-width="1.25" stroke-linejoin="round" clip-path="url(#c3)"/>
<g font-family='&quot;Liberation Serif&quot;, &quot;Times New Roman&quot;, serif' font-size="9.5" fill="#262626">
<text x="71.6" y="109.4" text-anchor="middle">40</text>
<text x="95.3" y="109.4" text-anchor="middle">60</text>
<text x="119" y="109.4" text-anchor="middle">80</text>
<text x="53.75" y="92.36" text-anchor="end">3.9</text>
<text x="53.75" y="83.35" text-anchor="end">4</text>
<text x="53.75" y="74.35" text-anchor="end">4.1</text>
<text x="53.75" y="65.34" text-anchor="end">4.2</text>
<text x="53.75" y="56.33" text-anchor="end">4.3</text>
</g>
<rect x="172.2" y="99.2" width="70.8" height="54" fill="#fff"/>
<path d="M186.3 153.2V151.4M186.3 99.2V101M210.4 153.2V151.4M210.4 99.2V101M234.5 153.2V151.4M234.5 99.2V101M172.2 149.36H174M243 149.36H241.2M172.2 131.09H174M243 131.09H241.2M172.2 112.81H174M243 112.81H241.2" stroke="#262626" stroke-width="0.8" fill="none"/>
<rect x="172.2" y="99.2" width="70.8" height="54" fill="none" stroke="#262626" stroke-width="0.9"/>
<line x1="172.2" y1="131.09" x2="243" y2="131.09" stroke="#0072bd" stroke-width="1.3" stroke-dasharray="3.7 3.7"/>
<polyline points="168.83,157.45 169.43,152.06 170.03,146.76 170.63,141.72 171.24,137.13 171.84,133.13 172.44,129.81 173.04,126.45 173.65,122.96 174.25,119.43 174.85,115.97 175.45,112.68 176.06,109.67 176.66,107.04 177.26,104.89 177.86,103.33 178.47,102.46 179.07,102.38 179.67,103.18 180.27,104.76 180.88,106.96 181.48,109.66 182.08,112.73 182.68,116.01 183.29,119.39 183.89,122.73 184.49,125.88 185.09,128.71 185.7,131.09 186.3,133.32 186.9,135.71 187.5,138.16 188.11,140.55 188.71,142.76 189.31,144.68 189.92,146.19 190.52,147.18 191.12,147.54 191.72,147.37 192.33,146.9 192.93,146.17 193.53,145.21 194.13,144.06 194.74,142.77 195.34,141.38 195.94,139.92 196.54,138.44 197.15,136.96 197.75,135.55 198.35,134.23 198.95,133.04 199.56,132.02 200.16,131.22 200.76,130.58 201.36,129.94 201.97,129.3 202.57,128.68 203.17,128.08 203.77,127.5 204.38,126.97 204.98,126.48 205.58,126.05 206.18,125.68 206.79,125.39 207.39,125.19 207.99,125.08 208.59,125.08 209.2,125.3 209.8,125.73 210.4,126.33 211,127.06 211.61,127.88 212.21,128.75 212.81,129.62 213.41,130.47 214.02,131.24 214.62,132.14 215.22,133.19 215.82,134.32 216.43,135.43 217.03,136.44 217.63,137.27 218.24,137.83 218.84,138.03 219.44,137.85 220.04,137.36 220.65,136.63 221.25,135.74 221.85,134.76 222.45,133.75 223.06,132.8 223.66,131.97 224.26,131.34 224.86,130.96 225.47,130.67 226.07,130.41 226.67,130.19 227.27,129.99 227.88,129.8 228.48,129.62 229.08,129.44 229.68,129.26 230.29,129.06 230.89,128.85 231.49,128.63 232.09,128.4 232.7,128.19 233.3,127.99 233.9,127.81 234.5,127.65 235.11,127.54 235.71,127.46 236.31,127.43 236.91,127.48 237.52,127.62 238.12,127.82 238.72,128.09 239.32,128.39 239.93,128.72 240.53,129.06 241.13,129.4 241.73,129.71 242.34,129.99 242.94,130.22 243.54,130.44 244.14,130.68 244.75,130.92 245.35,131.15 245.95,131.38 246.56,131.58" fill="none" stroke="#ff0000" stroke-width="1.25" stroke-linejoin="round" clip-path="url(#c4)"/>
<g font-family='&quot;Liberation Serif&quot;, &quot;Times New Roman&quot;, serif' font-size="9.5" fill="#262626">
<text x="186.3" y="165" text-anchor="middle">540</text>
<text x="210.4" y="165" text-anchor="middle">560</text>
<text x="234.5" y="165" text-anchor="middle">580</text>
<text x="169.2" y="152.5" text-anchor="end">6.8</text>
<text x="169.2" y="134.22" text-anchor="end">7</text>
<text x="169.2" y="115.95" text-anchor="end">7.2</text>
</g>
<ellipse cx="46.2" cy="126.1" rx="4.3" ry="6.2" fill="none" stroke="#555" stroke-width="0.8"/>
<line x1="50.5" y1="123.6" x2="85.13" y2="111.43" stroke="#333" stroke-width="0.75"/>
<polygon points="88.9,110.1 84.81,113.55 83.55,109.97" fill="#111"/>
<ellipse cx="162" cy="73.2" rx="4.2" ry="6" fill="none" stroke="#555" stroke-width="0.8"/>
<line x1="167.4" y1="77.8" x2="205.36" y2="95.23" stroke="#333" stroke-width="0.75"/>
<polygon points="209,96.9 203.66,96.54 205.25,93.09" fill="#111"/>
<path d="M301.5 197.5V195.2M301.5 20.4V22.7M347.68 197.5V195.2M347.68 20.4V22.7M393.86 197.5V195.2M393.86 20.4V22.7M440.04 197.5V195.2M440.04 20.4V22.7M486.22 197.5V195.2M486.22 20.4V22.7M532.4 197.5V195.2M532.4 20.4V22.7M301.5 197.5H303.8M532.4 197.5H530.1M301.5 162.08H303.8M532.4 162.08H530.1M301.5 126.66H303.8M532.4 126.66H530.1M301.5 91.24H303.8M532.4 91.24H530.1M301.5 55.82H303.8M532.4 55.82H530.1M301.5 20.4H303.8M532.4 20.4H530.1" stroke="#262626" stroke-width="0.8" fill="none"/>
<rect x="301.5" y="20.4" width="230.9" height="177.1" fill="none" stroke="#262626" stroke-width="0.9"/>
<g font-family='&quot;Liberation Serif&quot;, &quot;Times New Roman&quot;, serif' font-size="9.5" fill="#262626">
<text x="301.5" y="209.7" text-anchor="middle">0</text>
<text x="347.68" y="209.7" text-anchor="middle">200</text>
<text x="393.86" y="209.7" text-anchor="middle">400</text>
<text x="440.04" y="209.7" text-anchor="middle">600</text>
<text x="486.22" y="209.7" text-anchor="middle">800</text>
<text x="532.4" y="209.7" text-anchor="middle">1000</text>
<text x="298.9" y="200.63" text-anchor="end">0</text>
<text x="298.9" y="165.21" text-anchor="end">2</text>
<text x="298.9" y="129.79" text-anchor="end">4</text>
<text x="298.9" y="94.38" text-anchor="end">6</text>
<text x="298.9" y="58.95" text-anchor="end">8</text>
<text x="298.9" y="23.54" text-anchor="end">10</text>
</g>
<text x="416.4" y="17" text-anchor="middle" font-family='&quot;Liberation Serif&quot;, &quot;Times New Roman&quot;, serif' font-size="9.3" fill="#111">CFB boiler water level output</text>
<text x="416.95" y="221.3" text-anchor="middle" font-family='&quot;Liberation Serif&quot;, &quot;Times New Roman&quot;, serif' font-size="10" fill="#262626" xml:space="preserve">Time  (s)</text>
<text transform="translate(285.6 108.95) rotate(-90)" text-anchor="middle" font-family='&quot;Liberation Serif&quot;, &quot;Times New Roman&quot;, serif' font-size="10" fill="#262626" xml:space="preserve">Water level  (m)</text>
<polyline points="301.5,126.66 416.95,126.66 416.95,73.53 532.4,73.53" fill="none" stroke="#0072bd" stroke-width="1.3" stroke-linejoin="round" stroke-dasharray="3.7 3.7" clip-path="url(#c5)"/>
<polyline points="301.5,197.5 301.62,194.05 301.73,190.56 301.85,187.04 301.96,183.49 302.08,179.91 302.19,176.3 302.31,172.67 302.42,169.01 302.54,165.33 302.65,161.63 302.77,157.91 302.89,154.17 303,150.41 303.12,146.64 303.23,142.85 303.35,139.06 303.46,135.22 303.58,131.26 303.69,126.94 303.81,122.77 303.92,119.34 304.04,116.48 304.16,114.68 304.27,113.27 304.39,112.67 304.5,113.05 304.62,114.06 304.73,115.53 304.85,117.27 304.96,119.1 305.08,120.85 305.19,122.33 305.31,123.85 305.43,125.34 305.54,126.5 305.66,127.23 305.77,127.86 305.89,128.37 306,128.74 306.12,128.94 306.23,129.08 306.35,129.1 306.46,129.07 306.58,129.01 306.7,128.93 306.81,128.82 306.93,128.53 307.04,128.1 307.16,127.62 307.27,127.15 307.39,126.79 307.5,126.6 307.62,126.45 307.73,126.31 307.85,126.18 307.97,126.07 308.08,125.96 308.2,125.88 308.31,125.81 308.43,125.76 308.54,125.73 308.66,125.72 308.77,125.74 308.89,125.78 309,125.85 309.12,125.92 309.24,126.01 309.35,126.09 309.47,126.18 309.58,126.28 309.7,126.39 309.81,126.51 309.93,126.65 310.04,126.78 310.16,126.93 310.27,127.11 310.39,127.31 310.51,127.5 310.62,127.65 310.74,127.73 310.85,127.73 310.97,127.65 311.08,127.51 311.2,127.34 311.31,127.14 311.43,126.94 311.54,126.76 311.66,126.6 311.78,126.41 311.89,126.21 312.01,126.04 312.12,125.91 312.24,125.88 312.35,125.9 312.47,125.93 312.58,125.96 312.7,125.97 312.81,125.86 312.93,125.67 313.05,125.51 313.16,125.46 313.28,125.46 313.39,125.48 313.51,125.5 313.62,125.53 313.74,125.56 313.85,125.62 313.97,125.72 314.08,125.84 314.2,125.96 314.31,126.06 314.43,126.13 314.55,126.17 314.66,126.21 314.78,126.25 314.89,126.28 315.01,126.3 315.12,126.31 315.24,126.26 315.35,126.09 315.47,125.85 315.58,125.59 315.7,125.35 315.82,125.18 315.93,125.14 316.05,125.24 316.16,125.43 316.28,125.63 316.39,125.76 316.51,125.75 316.62,125.66 316.74,125.66 316.85,125.69 316.97,125.73 317.09,125.79 317.2,125.86 317.32,125.95 317.43,126.07 317.55,126.19 317.66,126.31 317.78,126.43 317.89,126.53 318.01,126.61 318.12,126.66 318.24,126.69 318.36,126.72 318.47,126.74 318.59,126.77 318.7,126.79 318.82,126.8 318.93,126.82 319.05,126.83 319.16,126.83 319.28,126.84 319.39,126.83 319.51,126.82 319.63,126.8 319.74,126.77 319.86,126.74 319.97,126.7 320.09,126.65 320.2,126.6 320.32,126.54 320.43,126.48 320.55,126.89 320.66,126.89 320.78,126.88 320.9,126.87 321.01,126.85 321.13,126.82 321.24,126.79 321.36,126.76 321.47,126.72 321.59,126.68 321.7,126.64 321.82,126.6 321.93,126.57 322.05,126.54 322.17,126.53 322.28,126.52 322.4,126.53 322.51,126.55 322.63,126.58 322.74,126.61 322.86,126.65 322.97,126.69 323.09,126.72 323.2,126.76 323.32,126.79 323.44,126.82 323.55,126.83 323.67,126.84 323.78,126.84 323.9,126.84 324.01,126.84 324.13,126.83 324.24,126.83 324.36,126.83 324.47,126.84 324.59,126.85 324.71,126.87 324.82,126.89 324.94,126.92 325.05,126.95 325.17,126.97 325.28,126.99 325.4,127.01 325.51,127.02 325.63,127.01 325.74,126.99 325.86,126.95 325.98,126.9 326.09,126.85 326.21,126.78 326.32,126.73 326.44,126.67 326.55,126.63 326.67,126.6 326.78,126.6 326.9,126.61 327.01,126.66 327.13,126.72 327.25,126.81 327.36,126.9 327.48,127 327.59,127.1 327.71,127.19 327.82,127.27 327.94,127.34 328.05,127.37 328.17,127.38 328.28,127.37 328.4,127.33 328.52,127.27 328.63,127.19 328.75,127.09 328.86,126.99 328.98,126.87 329.09,126.75 329.21,126.63 329.32,126.51 329.44,126.39 329.55,126.28 329.67,126.18 329.79,126.09 329.9,126.02 330.02,125.97 330.13,125.94 330.25,125.94 330.36,125.96 330.48,126.02 330.59,126.1 330.71,126.21 330.82,126.33 330.94,126.46 331.06,126.59 331.17,126.73 331.29,126.85 331.4,126.97 331.52,127.07 331.63,127.14 331.75,127.19 331.86,127.22 331.98,127.22 332.09,127.2 332.21,127.15 332.33,127.08 332.44,126.97 332.56,126.84 332.67,126.68 332.79,126.5 332.9,126.29 333.02,126.08 333.13,125.86 333.25,125.66 333.36,125.48 333.48,125.33 333.6,125.22 333.71,125.16 333.83,125.16 333.94,125.23 334.06,125.36 334.17,125.54 334.29,125.76 334.4,126 334.52,126.25 334.63,126.51 334.75,126.76 334.87,126.99 334.98,127.19 335.1,127.34 335.21,127.46 335.33,127.55 335.44,127.6 335.56,127.63 335.67,127.64 335.79,127.62 335.9,127.6 336.02,127.56 336.13,127.52 336.25,127.48 336.37,127.43 336.48,127.38 336.6,127.33 336.71,127.28 336.83,127.21 336.94,127.14 337.06,127.07 337.17,126.98 337.29,126.89 337.4,126.78 337.52,126.67 337.64,126.55 337.75,126.43 337.87,126.3 337.98,126.18 338.1,126.05 338.21,125.93 338.33,125.81 338.44,125.7 338.56,125.6 338.67,125.51 338.79,125.43 338.91,125.37 339.02,125.33 339.14,125.32 339.25,125.34 339.37,125.38 339.48,125.46 339.6,125.58 339.71,125.73 339.83,125.92 339.94,126.13 340.06,126.34 340.18,126.56 340.29,126.77 340.41,126.96 340.52,127.12 340.64,127.24 340.75,127.31 340.87,127.32 340.98,127.28 341.1,127.21 341.21,127.1 341.33,126.97 341.45,126.83 341.56,126.69 341.68,126.56 341.79,126.44 341.91,126.36 342.02,126.31 342.14,126.29 342.25,126.29 342.37,126.32 342.48,126.37 342.6,126.42 342.72,126.49 342.83,126.55 342.95,126.61 343.06,126.66 343.18,126.69 343.29,126.72 343.41,126.73 343.52,126.75 343.64,126.76 343.75,126.78 343.87,126.8 343.99,126.84 344.1,126.9 344.22,126.97 344.33,127.07 344.45,127.18 344.56,127.3 344.68,127.42 344.79,127.54 344.91,127.63 345.02,127.71 345.14,127.74 345.26,127.74 345.37,127.69 345.49,127.59 345.6,127.44 345.72,127.26 345.83,127.06 345.95,126.85 346.06,126.65 346.18,126.46 346.29,126.3 346.41,126.18 346.53,126.12 346.64,126.11 346.76,126.16 346.87,126.25 346.99,126.37 347.1,126.51 347.22,126.66 347.33,126.81 347.45,126.94 347.56,127.05 347.68,127.12 347.8,127.14 347.91,127.13 348.03,127.08 348.14,127.01 348.26,126.92 348.37,126.82 348.49,126.72 348.6,126.63 348.72,126.56 348.83,126.5 348.95,126.47 349.07,126.47 349.18,126.49 349.3,126.52 349.41,126.55 349.53,126.59 349.64,126.62 349.76,126.64 349.87,126.64 349.99,126.62 350.1,126.57 350.22,126.49 350.34,126.4 350.45,126.29 350.57,126.18 350.68,126.06 350.8,125.94 350.91,125.84 351.03,125.74 351.14,125.67 351.26,125.61 351.37,125.58 351.49,125.57 351.61,125.58 351.72,125.62 351.84,125.67 351.95,125.73 352.07,125.82 352.18,125.92 352.3,126.04 352.41,126.16 352.53,126.3 352.64,126.45 352.76,126.6 352.88,126.74 352.99,126.88 353.11,127 353.22,127.11 353.34,127.21 353.45,127.27 353.57,127.32 353.68,127.33 353.8,127.32 353.91,127.3 354.03,127.25 354.15,127.18 354.26,127.11 354.38,127.01 354.49,126.91 354.61,126.8 354.72,126.68 354.84,126.56 354.95,126.45 355.07,126.34 355.18,126.24 355.3,126.16 355.42,126.11 355.53,126.07 355.65,126.07 355.76,126.11 355.88,126.18 355.99,126.29 356.11,126.42 356.22,126.57 356.34,126.72 356.45,126.88 356.57,127.03 356.69,127.17 356.8,127.28 356.92,127.37 357.03,127.42 357.15,127.43 357.26,127.42 357.38,127.38 357.49,127.32 357.61,127.24 357.72,127.16 357.84,127.06 357.96,126.96 358.07,126.87 358.19,126.78 358.3,126.69 358.42,126.62 358.53,126.56 358.65,126.51 358.76,126.47 358.88,126.46 358.99,126.46 359.11,126.49 359.23,126.54 359.34,126.61 359.46,126.71 359.57,126.82 359.69,126.93 359.8,127.06 359.92,127.17 360.03,127.29 360.15,127.38 360.26,127.46 360.38,127.52 360.49,127.55 360.61,127.55 360.73,127.53 360.84,127.5 360.96,127.46 361.07,127.42 361.19,127.38 361.3,127.34 361.42,127.32 361.53,127.32 361.65,127.33 361.76,127.37 361.88,127.42 362,127.47 362.11,127.52 362.23,127.56 362.34,127.6 362.46,127.61 362.57,127.6 362.69,127.57 362.8,127.49 362.92,127.39 363.03,127.27 363.15,127.14 363.27,127 363.38,126.87 363.5,126.74 363.61,126.64 363.73,126.56 363.84,126.51 363.96,126.5 364.07,126.52 364.19,126.57 364.3,126.64 364.42,126.71 364.54,126.79 364.65,126.86 364.77,126.92 364.88,126.95 365,126.96 365.11,126.93 365.23,126.87 365.34,126.79 365.46,126.69 365.57,126.59 365.69,126.48 365.81,126.37 365.92,126.28 366.04,126.21 366.15,126.17 366.27,126.15 366.38,126.17 366.5,126.2 366.61,126.26 366.73,126.32 366.84,126.39 366.96,126.46 367.08,126.52 367.19,126.57 367.31,126.6 367.42,126.61 367.54,126.6 367.65,126.58 367.77,126.54 367.88,126.5 368,126.46 368.11,126.42 368.23,126.38 368.35,126.36 368.46,126.36 368.58,126.37 368.69,126.4 368.81,126.44 368.92,126.49 369.04,126.54 369.15,126.59 369.27,126.64 369.38,126.67 369.5,126.7 369.62,126.7 369.73,126.69 369.85,126.66 369.96,126.62 370.08,126.56 370.19,126.51 370.31,126.44 370.42,126.39 370.54,126.33 370.65,126.29 370.77,126.26 370.89,126.25 371,126.25 371.12,126.27 371.23,126.3 371.35,126.35 371.46,126.41 371.58,126.47 371.69,126.55 371.81,126.63 371.92,126.71 372.04,126.81 372.16,126.9 372.27,126.98 372.39,127.07 372.5,127.14 372.62,127.19 372.73,127.23 372.85,127.24 372.96,127.23 373.08,127.18 373.19,127.11 373.31,127 373.43,126.88 373.54,126.74 373.66,126.6 373.77,126.46 373.89,126.32 374,126.2 374.12,126.1 374.23,126.03 374.35,125.99 374.46,125.99 374.58,126 374.7,126.03 374.81,126.06 374.93,126.1 375.04,126.14 375.16,126.16 375.27,126.16 375.39,126.14 375.5,126.09 375.62,126.01 375.73,125.92 375.85,125.82 375.97,125.72 376.08,125.62 376.2,125.54 376.31,125.48 376.43,125.45 376.54,125.46 376.66,125.5 376.77,125.59 376.89,125.7 377,125.84 377.12,125.99 377.24,126.15 377.35,126.32 377.47,126.47 377.58,126.61 377.7,126.74 377.81,126.83 377.93,126.9 378.04,126.95 378.16,126.98 378.27,127 378.39,127 378.51,127 378.62,126.99 378.74,126.98 378.85,126.97 378.97,126.96 379.08,126.96 379.2,126.97 379.31,126.99 379.43,127.02 379.54,127.07 379.66,127.13 379.78,127.21 379.89,127.31 380.01,127.43 380.12,127.57 380.24,127.73 380.35,127.9 380.47,128.07 380.58,128.23 380.7,128.38 380.81,128.51 380.93,128.61 381.05,128.68 381.16,128.71 381.28,128.69 381.39,128.63 381.51,128.53 381.62,128.4 381.74,128.25 381.85,128.08 381.97,127.9 382.08,127.72 382.2,127.53 382.31,127.36 382.43,127.19 382.55,127.04 382.66,126.9 382.78,126.78 382.89,126.68 383.01,126.59 383.12,126.51 383.24,126.46 383.35,126.42 383.47,126.4 383.58,126.4 383.7,126.42 383.82,126.45 383.93,126.5 384.05,126.57 384.16,126.66 384.28,126.75 384.39,126.87 384.51,126.99 384.62,127.13 384.74,127.28 384.85,127.43 384.97,127.59 385.09,127.73 385.2,127.86 385.32,127.97 385.43,128.05 385.55,128.09 385.66,128.09 385.78,128.04 385.89,127.94 386.01,127.79 386.12,127.61 386.24,127.4 386.36,127.19 386.47,126.97 386.59,126.77 386.7,126.59 386.82,126.44 386.93,126.34 387.05,126.29 387.16,126.28 387.28,126.32 387.39,126.39 387.51,126.48 387.63,126.58 387.74,126.69 387.86,126.8 387.97,126.9 388.09,126.97 388.2,127.03 388.32,127.05 388.43,127.06 388.55,127.05 388.66,127.02 388.78,126.99 388.9,126.96 389.01,126.92 389.13,126.88 389.24,126.85 389.36,126.83 389.47,126.82 389.59,126.82 389.7,126.82 389.82,126.82 389.93,126.83 390.05,126.85 390.17,126.86 390.28,126.88 390.4,126.89 390.51,126.9 390.63,126.91 390.74,126.91 390.86,126.91 390.97,126.9 391.09,126.88 391.2,126.86 391.32,126.83 391.44,126.78 391.55,126.73 391.67,126.67 391.78,126.6 391.9,126.53 392.01,126.46 392.13,126.41 392.24,126.36 392.36,126.33 392.47,126.33 392.59,126.35 392.71,126.41 392.82,126.5 392.94,126.62 393.05,126.76 393.17,126.91 393.28,127.06 393.4,127.21 393.51,127.35 393.63,127.46 393.74,127.54 393.86,127.58 393.98,127.58 394.09,127.54 394.21,127.46 394.32,127.37 394.44,127.26 394.55,127.14 394.67,127.03 394.78,126.92 394.9,126.84 395.01,126.78 395.13,126.76 395.25,126.76 395.36,126.79 395.48,126.83 395.59,126.87 395.71,126.92 395.82,126.95 395.94,126.97 396.05,126.97 396.17,126.93 396.28,126.86 396.4,126.76 396.52,126.64 396.63,126.51 396.75,126.38 396.86,126.26 396.98,126.16 397.09,126.08 397.21,126.05 397.32,126.06 397.44,126.12 397.55,126.23 397.67,126.37 397.79,126.53 397.9,126.7 398.02,126.86 398.13,127 398.25,127.12 398.36,127.19 398.48,127.21 398.59,127.17 398.71,127.07 398.82,126.92 398.94,126.75 399.06,126.56 399.17,126.37 399.29,126.18 399.4,126.01 399.52,125.88 399.63,125.79 399.75,125.75 399.86,125.76 399.98,125.81 400.09,125.88 400.21,125.98 400.33,126.07 400.44,126.17 400.56,126.25 400.67,126.31 400.79,126.34 400.9,126.32 401.02,126.28 401.13,126.2 401.25,126.12 401.36,126.02 401.48,125.94 401.6,125.86 401.71,125.8 401.83,125.78 401.94,125.8 402.06,125.86 402.17,125.96 402.29,126.1 402.4,126.25 402.52,126.41 402.63,126.58 402.75,126.73 402.87,126.86 402.98,126.97 403.1,127.03 403.21,127.05 403.33,127.03 403.44,126.97 403.56,126.89 403.67,126.79 403.79,126.67 403.9,126.55 404.02,126.43 404.14,126.32 404.25,126.23 404.37,126.16 404.48,126.12 404.6,126.1 404.71,126.09 404.83,126.11 404.94,126.15 405.06,126.21 405.17,126.28 405.29,126.36 405.4,126.47 405.52,126.58 405.64,126.71 405.75,126.83 405.87,126.96 405.98,127.08 406.1,127.2 406.21,127.29 406.33,127.37 406.44,127.43 406.56,127.46 406.67,127.45 406.79,127.42 406.91,127.37 407.02,127.29 407.14,127.21 407.25,127.12 407.37,127.03 407.48,126.94 407.6,126.86 407.71,126.8 407.83,126.75 407.94,126.73 408.06,126.71 408.18,126.71 408.29,126.73 408.41,126.75 408.52,126.78 408.64,126.82 408.75,126.86 408.87,126.9 408.98,126.94 409.1,126.98 409.21,127.02 409.33,127.06 409.45,127.09 409.56,127.12 409.68,127.15 409.79,127.16 409.91,127.17 410.02,127.17 410.14,127.17 410.25,127.15 410.37,127.13 410.48,127.11 410.6,127.09 410.72,127.07 410.83,127.06 410.95,127.05 411.06,127.06 411.18,127.07 411.29,127.09 411.41,127.13 411.52,127.17 411.64,127.22 411.75,127.27 411.87,127.32 411.99,127.36 412.1,127.39 412.22,127.42 412.33,127.42 412.45,127.42 412.56,127.4 412.68,127.36 412.79,127.31 412.91,127.26 413.02,127.2 413.14,127.13 413.26,127.06 413.37,126.98 413.49,126.91 413.6,126.84 413.72,126.77 413.83,126.71 413.95,126.65 414.06,126.6 414.18,126.55 414.29,126.52 414.41,126.49 414.53,126.48 414.64,126.48 414.76,126.5 414.87,126.52 414.99,126.56 415.1,126.61 415.22,126.67 415.33,126.73 415.45,126.81 415.56,126.89 415.68,126.98 415.8,127.07 415.91,127.17 416.03,127.27 416.14,127.36 416.26,127.44 416.37,127.51 416.49,127.56 416.6,127.59 416.72,127.59 416.83,127.56 416.95,126.66 417.07,124.66 417.18,122.33 417.3,119.58 417.41,115.94 417.53,111.17 417.64,105.51 417.76,99.16 417.87,92.38 417.99,85.38 418.1,78.39 418.22,71.63 418.34,65.35 418.45,59.76 418.57,55.1 418.68,51.59 418.8,49.47 418.91,48.92 419.03,49.31 419.14,50.19 419.26,51.51 419.37,53.21 419.49,55.24 419.61,57.52 419.72,60.01 419.84,62.64 419.95,65.35 420.07,68.09 420.18,70.79 420.3,73.39 420.41,75.85 420.53,78.08 420.64,80.05 420.76,81.68 420.88,82.92 420.99,83.7 421.11,83.98 421.22,83.91 421.34,83.72 421.45,83.42 421.57,83.01 421.68,82.51 421.8,81.93 421.91,81.27 422.03,80.55 422.15,79.78 422.26,78.96 422.38,78.12 422.49,77.25 422.61,76.08 422.72,74.51 422.84,73.36 422.95,72.51 423.07,71.69 423.18,70.91 423.3,70.19 423.42,69.53 423.53,68.95 423.65,68.47 423.76,68.09 423.88,67.83 423.99,67.7 424.11,67.71 424.22,67.84 424.34,68.08 424.45,68.42 424.57,68.83 424.69,69.31 424.8,69.83 424.92,70.39 425.03,70.98 425.15,71.57 425.26,72.15 425.38,72.71 425.49,73.24 425.61,73.73 425.72,74.29 425.84,74.92 425.96,75.58 426.07,76.23 426.19,76.84 426.3,77.37 426.42,77.78 426.53,78.03 426.65,78.1 426.76,78.01 426.88,77.8 426.99,77.5 427.11,77.11 427.23,76.67 427.34,76.19 427.46,75.68 427.57,75.16 427.69,74.66 427.8,74.18 427.92,73.75 428.03,73.38 428.15,72.98 428.26,72.55 428.38,72.12 428.5,71.71 428.61,71.34 428.73,71.05 428.84,70.86 428.96,70.78 429.07,70.82 429.19,70.92 429.3,71.08 429.42,71.29 429.53,71.53 429.65,71.79 429.76,72.08 429.88,72.36 430,72.65 430.11,72.91 430.23,73.16 430.34,73.37 430.46,73.53 430.57,73.67 430.69,73.81 430.8,73.96 430.92,74.1 431.03,74.23 431.15,74.36 431.27,74.47 431.38,74.57 431.5,74.65 431.61,74.71 431.73,74.74 431.84,74.75 431.96,74.72 432.07,74.65 432.19,74.54 432.3,74.41 432.42,74.25 432.54,74.07 432.65,73.87 432.77,73.67 432.88,73.46 433,73.25 433.11,73.04 433.23,72.85 433.34,72.67 433.46,72.52 433.57,72.39 433.69,72.29 433.81,72.22 433.92,72.2 434.04,72.22 434.15,72.28 434.27,72.36 434.38,72.48 434.5,72.62 434.61,72.77 434.73,72.94 434.84,73.12 434.96,73.31 435.08,73.49 435.19,73.68 435.31,73.85 435.42,74.01 435.54,74.16 435.65,74.28 435.77,74.38 435.88,74.45 436,74.48 436.11,74.48 436.23,74.44 436.35,74.38 436.46,74.29 436.58,74.18 436.69,74.06 436.81,73.93 436.92,73.79 437.04,73.66 437.15,73.53 437.27,73.42 437.38,73.32 437.5,73.24 437.62,73.19 437.73,73.18 437.85,73.18 437.96,73.21 438.08,73.24 438.19,73.28 438.31,73.33 438.42,73.38 438.54,73.44 438.65,73.5 438.77,73.55 438.89,73.6 439,73.64 439.12,73.68 439.23,73.7 439.35,73.71 439.46,73.71 439.58,73.71 439.69,73.71 439.81,73.7 439.92,73.7 440.04,73.69 440.16,73.68 440.27,73.67 440.39,73.66 440.5,73.64 440.62,73.62 440.73,73.6 440.85,73.57 440.96,73.53 441.08,73.79 441.19,73.86 441.31,73.93 441.43,73.97 441.54,74.01 441.66,74.03 441.77,74.03 441.89,74.02 442,73.99 442.12,73.94 442.23,73.87 442.35,73.78 442.46,73.67 442.58,73.54 442.7,73.41 442.81,73.27 442.93,73.14 443.04,73.02 443.16,72.93 443.27,72.86 443.39,72.82 443.5,72.82 443.62,72.87 443.73,72.95 443.85,73.06 443.97,73.19 444.08,73.33 444.2,73.47 444.31,73.59 444.43,73.7 444.54,73.77 444.66,73.8 444.77,73.79 444.89,73.74 445,73.65 445.12,73.55 445.24,73.43 445.35,73.31 445.47,73.21 445.58,73.12 445.7,73.06 445.81,73.04 445.93,73.07 446.04,73.14 446.16,73.23 446.27,73.35 446.39,73.49 446.51,73.62 446.62,73.75 446.74,73.87 446.85,73.96 446.97,74.01 447.08,74.03 447.2,74.01 447.31,73.96 447.43,73.88 447.54,73.79 447.66,73.68 447.78,73.56 447.89,73.43 448.01,73.31 448.12,73.2 448.24,73.09 448.35,73.01 448.47,72.93 448.58,72.87 448.7,72.81 448.81,72.77 448.93,72.74 449.05,72.72 449.16,72.72 449.28,72.72 449.39,72.73 449.51,72.75 449.62,72.78 449.74,72.82 449.85,72.86 449.97,72.9 450.08,72.94 450.2,72.99 450.32,73.04 450.43,73.09 450.55,73.13 450.66,73.17 450.78,73.21 450.89,73.25 451.01,73.28 451.12,73.31 451.24,73.34 451.35,73.36 451.47,73.38 451.58,73.4 451.7,73.41 451.82,73.42 451.93,73.43 452.05,73.44 452.16,73.44 452.28,73.44 452.39,73.45 452.51,73.45 452.62,73.45 452.74,73.46 452.85,73.46 452.97,73.47 453.09,73.48 453.2,73.49 453.32,73.5 453.43,73.51 453.55,73.53 453.66,73.54 453.78,73.56 453.89,73.57 454.01,73.59 454.12,73.61 454.24,73.62 454.36,73.63 454.47,73.63 454.59,73.63 454.7,73.62 454.82,73.61 454.93,73.58 455.05,73.54 455.16,73.49 455.28,73.43 455.39,73.37 455.51,73.29 455.63,73.22 455.74,73.14 455.86,73.07 455.97,73.01 456.09,72.95 456.2,72.9 456.32,72.87 456.43,72.85 456.55,72.83 456.66,72.83 456.78,72.83 456.9,72.84 457.01,72.86 457.13,72.88 457.24,72.9 457.36,72.92 457.47,72.94 457.59,72.96 457.7,72.98 457.82,73.01 457.93,73.04 458.05,73.07 458.17,73.12 458.28,73.17 458.4,73.24 458.51,73.31 458.63,73.4 458.74,73.5 458.86,73.61 458.97,73.71 459.09,73.82 459.2,73.92 459.32,74.01 459.44,74.09 459.55,74.16 459.67,74.2 459.78,74.22 459.9,74.22 460.01,74.2 460.13,74.17 460.24,74.12 460.36,74.07 460.47,74.01 460.59,73.94 460.71,73.87 460.82,73.81 460.94,73.74 461.05,73.69 461.17,73.63 461.28,73.59 461.4,73.54 461.51,73.5 461.63,73.46 461.74,73.43 461.86,73.4 461.98,73.37 462.09,73.35 462.21,73.33 462.32,73.32 462.44,73.31 462.55,73.32 462.67,73.33 462.78,73.35 462.9,73.39 463.01,73.44 463.13,73.5 463.25,73.58 463.36,73.67 463.48,73.77 463.59,73.86 463.71,73.96 463.82,74.05 463.94,74.13 464.05,74.19 464.17,74.23 464.28,74.25 464.4,74.24 464.52,74.2 464.63,74.14 464.75,74.05 464.86,73.94 464.98,73.82 465.09,73.68 465.21,73.52 465.32,73.35 465.44,73.18 465.55,72.99 465.67,72.81 465.79,72.63 465.9,72.47 466.02,72.32 466.13,72.21 466.25,72.12 466.36,72.08 466.48,72.09 466.59,72.15 466.71,72.27 466.82,72.44 466.94,72.65 467.06,72.89 467.17,73.13 467.29,73.39 467.4,73.63 467.52,73.85 467.63,74.04 467.75,74.18 467.86,74.27 467.98,74.31 468.09,74.3 468.21,74.25 468.33,74.17 468.44,74.07 468.56,73.94 468.67,73.8 468.79,73.65 468.9,73.5 469.02,73.35 469.13,73.2 469.25,73.07 469.36,72.95 469.48,72.85 469.6,72.76 469.71,72.7 469.83,72.66 469.94,72.65 470.06,72.67 470.17,72.72 470.29,72.8 470.4,72.91 470.52,73.03 470.63,73.16 470.75,73.29 470.87,73.42 470.98,73.55 471.1,73.66 471.21,73.75 471.33,73.82 471.44,73.86 471.56,73.89 471.67,73.9 471.79,73.89 471.9,73.87 472.02,73.85 472.14,73.81 472.25,73.78 472.37,73.75 472.48,73.72 472.6,73.69 472.71,73.66 472.83,73.63 472.94,73.6 473.06,73.58 473.17,73.55 473.29,73.51 473.41,73.48 473.52,73.44 473.64,73.4 473.75,73.35 473.87,73.3 473.98,73.26 474.1,73.23 474.21,73.2 474.33,73.18 474.44,73.18 474.56,73.19 474.67,73.23 474.79,73.28 474.91,73.35 475.02,73.43 475.14,73.52 475.25,73.6 475.37,73.67 475.48,73.73 475.6,73.76 475.71,73.77 475.83,73.75 475.94,73.69 476.06,73.6 476.18,73.48 476.29,73.36 476.41,73.24 476.52,73.14 476.64,73.05 476.75,72.99 476.87,72.97 476.98,73.01 477.1,73.1 477.21,73.24 477.33,73.42 477.45,73.62 477.56,73.82 477.68,74.03 477.79,74.21 477.91,74.37 478.02,74.48 478.14,74.54 478.25,74.53 478.37,74.47 478.48,74.36 478.6,74.21 478.72,74.04 478.83,73.85 478.95,73.66 479.06,73.48 479.18,73.31 479.29,73.18 479.41,73.09 479.52,73.03 479.64,73.01 479.75,73.01 479.87,73.03 479.99,73.08 480.1,73.13 480.22,73.2 480.33,73.27 480.45,73.33 480.56,73.4 480.68,73.45 480.79,73.5 480.91,73.55 481.02,73.58 481.14,73.61 481.26,73.62 481.37,73.63 481.49,73.63 481.6,73.61 481.72,73.59 481.83,73.56 481.95,73.52 482.06,73.48 482.18,73.44 482.29,73.4 482.41,73.36 482.53,73.34 482.64,73.32 482.76,73.32 482.87,73.34 482.99,73.37 483.1,73.4 483.22,73.44 483.33,73.48 483.45,73.51 483.56,73.54 483.68,73.55 483.8,73.54 483.91,73.5 484.03,73.45 484.14,73.37 484.26,73.28 484.37,73.18 484.49,73.08 484.6,72.99 484.72,72.91 484.83,72.85 484.95,72.82 485.07,72.82 485.18,72.86 485.3,72.93 485.41,73.03 485.53,73.14 485.64,73.27 485.76,73.39 485.87,73.51 485.99,73.62 486.1,73.71 486.22,73.78 486.34,73.81 486.45,73.81 486.57,73.79 486.68,73.75 486.8,73.71 486.91,73.66 487.03,73.61 487.14,73.58 487.26,73.55 487.37,73.55 487.49,73.58 487.61,73.62 487.72,73.69 487.84,73.76 487.95,73.85 488.07,73.94 488.18,74.04 488.3,74.12 488.41,74.2 488.53,74.27 488.64,74.32 488.76,74.35 488.88,74.36 488.99,74.37 489.11,74.35 489.22,74.33 489.34,74.29 489.45,74.25 489.57,74.19 489.68,74.13 489.8,74.06 489.91,73.98 490.03,73.91 490.15,73.84 490.26,73.77 490.38,73.72 490.49,73.67 490.61,73.65 490.72,73.64 490.84,73.66 490.95,73.7 491.07,73.76 491.18,73.84 491.3,73.93 491.42,74.02 491.53,74.11 491.65,74.19 491.76,74.27 491.88,74.32 491.99,74.36 492.11,74.36 492.22,74.35 492.34,74.31 492.45,74.27 492.57,74.21 492.69,74.15 492.8,74.1 492.92,74.04 493.03,74 493.15,73.98 493.26,73.98 493.38,73.99 493.49,74.01 493.61,74.05 493.72,74.09 493.84,74.13 493.96,74.17 494.07,74.2 494.19,74.23 494.3,74.23 494.42,74.23 494.53,74.2 494.65,74.16 494.76,74.12 494.88,74.06 494.99,74.01 495.11,73.95 495.23,73.89 495.34,73.84 495.46,73.79 495.57,73.76 495.69,73.73 495.8,73.71 495.92,73.69 496.03,73.67 496.15,73.64 496.26,73.61 496.38,73.58 496.5,73.53 496.61,73.47 496.73,73.39 496.84,73.31 496.96,73.22 497.07,73.13 497.19,73.06 497.3,72.99 497.42,72.95 497.53,72.94 497.65,72.97 497.76,73.03 497.88,73.14 498,73.28 498.11,73.45 498.23,73.64 498.34,73.83 498.46,74.03 498.57,74.2 498.69,74.36 498.8,74.48 498.92,74.56 499.03,74.59 499.15,74.57 499.27,74.52 499.38,74.43 499.5,74.32 499.61,74.19 499.73,74.05 499.84,73.9 499.96,73.76 500.07,73.64 500.19,73.53 500.3,73.43 500.42,73.35 500.54,73.29 500.65,73.23 500.77,73.19 500.88,73.15 501,73.12 501.11,73.09 501.23,73.07 501.34,73.05 501.46,73.03 501.57,73 501.69,72.98 501.81,72.96 501.92,72.93 502.04,72.9 502.15,72.87 502.27,72.84 502.38,72.8 502.5,72.75 502.61,72.71 502.73,72.67 502.84,72.63 502.96,72.61 503.08,72.6 503.19,72.61 503.31,72.64 503.42,72.69 503.54,72.78 503.65,72.9 503.77,73.05 503.88,73.22 504,73.4 504.11,73.58 504.23,73.76 504.35,73.93 504.46,74.08 504.58,74.2 504.69,74.29 504.81,74.34 504.92,74.36 505.04,74.35 505.15,74.31 505.27,74.25 505.38,74.17 505.5,74.08 505.62,73.99 505.73,73.89 505.85,73.8 505.96,73.72 506.08,73.64 506.19,73.57 506.31,73.51 506.42,73.46 506.54,73.4 506.65,73.36 506.77,73.31 506.89,73.27 507,73.23 507.12,73.19 507.23,73.15 507.35,73.12 507.46,73.09 507.58,73.06 507.69,73.04 507.81,73.03 507.92,73.02 508.04,73.02 508.16,73.03 508.27,73.05 508.39,73.08 508.5,73.11 508.62,73.15 508.73,73.19 508.85,73.23 508.96,73.27 509.08,73.31 509.19,73.35 509.31,73.38 509.43,73.4 509.54,73.42 509.66,73.43 509.77,73.44 509.89,73.44 510,73.43 510.12,73.43 510.23,73.42 510.35,73.4 510.46,73.39 510.58,73.37 510.7,73.36 510.81,73.34 510.93,73.33 511.04,73.32 511.16,73.32 511.27,73.33 511.39,73.34 511.5,73.37 511.62,73.4 511.73,73.45 511.85,73.51 511.97,73.57 512.08,73.64 512.2,73.71 512.31,73.77 512.43,73.83 512.54,73.88 512.66,73.92 512.77,73.94 512.89,73.94 513,73.93 513.12,73.9 513.24,73.86 513.35,73.81 513.47,73.74 513.58,73.68 513.7,73.6 513.81,73.52 513.93,73.44 514.04,73.37 514.16,73.29 514.27,73.22 514.39,73.16 514.51,73.11 514.62,73.07 514.74,73.05 514.85,73.04 514.97,73.06 515.08,73.1 515.2,73.16 515.31,73.24 515.43,73.34 515.54,73.44 515.66,73.53 515.78,73.62 515.89,73.68 516.01,73.73 516.12,73.74 516.24,73.71 516.35,73.64 516.47,73.53 516.58,73.41 516.7,73.27 516.81,73.13 516.93,73.01 517.05,72.92 517.16,72.86 517.28,72.85 517.39,72.91 517.51,73.03 517.62,73.22 517.74,73.44 517.85,73.7 517.97,73.98 518.08,74.25 518.2,74.51 518.32,74.73 518.43,74.92 518.55,75.04 518.66,75.09 518.78,75.08 518.89,75.01 519.01,74.89 519.12,74.74 519.24,74.55 519.35,74.35 519.47,74.13 519.59,73.91 519.7,73.7 519.82,73.51 519.93,73.33 520.05,73.17 520.16,73.03 520.28,72.91 520.39,72.81 520.51,72.73 520.62,72.67 520.74,72.64 520.86,72.63 520.97,72.64 521.09,72.67 521.2,72.72 521.32,72.77 521.43,72.84 521.55,72.9 521.66,72.96 521.78,73.01 521.89,73.05 522.01,73.07 522.12,73.06 522.24,73.05 522.36,73.01 522.47,72.97 522.59,72.92 522.7,72.87 522.82,72.83 522.93,72.79 523.05,72.77 523.16,72.76 523.28,72.78 523.39,72.81 523.51,72.86 523.63,72.92 523.74,72.99 523.86,73.08 523.97,73.17 524.09,73.26 524.2,73.36 524.32,73.45 524.43,73.55 524.55,73.64 524.66,73.72 524.78,73.8 524.9,73.88 525.01,73.95 525.13,74.01 525.24,74.07 525.36,74.12 525.47,74.16 525.59,74.19 525.7,74.21 525.82,74.22 525.93,74.21 526.05,74.19 526.17,74.15 526.28,74.1 526.4,74.02 526.51,73.92 526.63,73.8 526.74,73.66 526.86,73.5 526.97,73.33 527.09,73.17 527.2,73.02 527.32,72.88 527.44,72.78 527.55,72.71 527.67,72.69 527.78,72.72 527.9,72.81 528.01,72.96 528.13,73.14 528.24,73.35 528.36,73.58 528.47,73.81 528.59,74.03 528.71,74.22 528.82,74.39 528.94,74.51 529.05,74.57 529.17,74.58 529.28,74.56 529.4,74.5 529.51,74.42 529.63,74.33 529.74,74.24 529.86,74.15 529.98,74.08 530.09,74.04 530.21,74.02 530.32,74.04 530.44,74.07 530.55,74.12 530.67,74.18 530.78,74.25 530.9,74.32 531.01,74.37 531.13,74.42 531.25,74.44 531.36,74.44 531.48,74.42 531.59,74.38 531.71,74.32 531.82,74.25 531.94,74.17 532.05,74.08 532.17,73.99 532.28,73.9 532.4,73.81" fill="none" stroke="#ff0000" stroke-width="1.25" stroke-linejoin="round" clip-path="url(#c6)"/>
<rect x="421.6" y="26.4" width="103.8" height="27.2" rx="0.8" fill="#fff" stroke="#555" stroke-width="0.9"/>
<line x1="423.8" y1="32.9" x2="435.3" y2="32.9" stroke="#0072bd" stroke-width="1.3" stroke-dasharray="3.9 3.6"/>
<text x="436.5" y="33.9" font-style="italic" font-size="8.9" fill="#505050" style="stroke:none">y</text>
<text x="440.3" y="38" font-style="italic" font-size="6.8" fill="#505050" style="stroke:none">d</text>
<line x1="444.2" y1="31.3" x2="451.1" y2="31.3" stroke="#9a9a9a" stroke-width="0.7"/>
<text x="451.8" y="34.5" font-family='&quot;Liberation Sans&quot;, Arial, sans-serif' font-size="8.2" fill="#111">Desired water level</text>
<line x1="423.8" y1="46.2" x2="435.3" y2="46.2" stroke="#ff0000" stroke-width="1.3"/>
<text x="436.3" y="47.3" font-style="italic" font-size="8.9" fill="#505050" style="stroke:none">y</text>
<text x="440.6" y="51.2" font-style="italic" font-size="6.8" fill="#505050" style="stroke:none">mfac</text>
<line x1="453.3" y1="44.9" x2="459.8" y2="44.9" stroke="#9a9a9a" stroke-width="0.7"/>
<text x="460.9" y="47.6" font-family='&quot;Liberation Sans&quot;, Arial, sans-serif' font-size="8.2" fill="#111">Water level output</text>
<rect x="321.1" y="38.3" width="75.3" height="57.8" fill="#fff"/>
<path d="M335.6 96.1V94.3M335.6 38.3V40.1M361.25 96.1V94.3M361.25 38.3V40.1M386.91 96.1V94.3M386.91 38.3V40.1M321.1 89.47H322.9M396.4 89.47H394.6M321.1 67.37H322.9M396.4 67.37H394.6M321.1 45.26H322.9M396.4 45.26H394.6" stroke="#262626" stroke-width="0.8" fill="none"/>
<rect x="321.1" y="38.3" width="75.3" height="57.8" fill="none" stroke="#262626" stroke-width="0.9"/>
<line x1="321.1" y1="67.37" x2="396.4" y2="67.37" stroke="#0072bd" stroke-width="1.3" stroke-dasharray="3.7 3.7"/>
<polyline points="317.64,239.02 318.28,215.58 318.92,192.04 319.56,168.42 320.2,144.73 320.84,120.77 321.48,96.1 322.13,69.08 322.77,43.09 323.41,21.69 324.05,3.84 324.69,-7.4 325.33,-16.22 325.97,-19.94 326.62,-17.58 327.26,-11.26 327.9,-2.1 328.54,8.76 329.18,20.2 329.82,31.08 330.46,40.38 331.11,49.85 331.75,59.14 332.39,66.35 333.03,70.94 333.67,74.87 334.31,78.06 334.95,80.32 335.6,81.61 336.24,82.44 336.88,82.6 337.52,82.4 338.16,82.03 338.8,81.52 339.44,80.82 340.09,79.03 340.73,76.36 341.37,73.33 342.01,70.44 342.65,68.19 343.29,66.98 343.93,66.05 344.58,65.18 345.22,64.38 345.86,63.66 346.5,63.02 347.14,62.48 347.78,62.05 348.42,61.74 349.06,61.55 349.71,61.51 350.35,61.63 350.99,61.9 351.63,62.29 352.27,62.76 352.91,63.29 353.55,63.84 354.2,64.38 354.84,64.98 355.48,65.68 356.12,66.46 356.76,67.29 357.4,68.13 358.04,69.04 358.69,70.18 359.33,71.43 359.97,72.61 360.61,73.54 361.25,74.06 361.89,74.02 362.53,73.52 363.18,72.67 363.82,71.58 364.46,70.36 365.1,69.12 365.74,67.97 366.38,66.96 367.02,65.8 367.67,64.56 368.31,63.47 368.95,62.72 369.59,62.51 370.23,62.62 370.87,62.82 371.51,63 372.16,63.03 372.8,62.36 373.44,61.21 374.08,60.18 374.72,59.85 375.36,59.9 376,60 376.64,60.14 377.29,60.31 377.93,60.51 378.57,60.88 379.21,61.49 379.85,62.23 380.49,62.98 381.13,63.63 381.78,64.05 382.42,64.32 383.06,64.57 383.7,64.8 384.34,64.98 384.98,65.1 385.62,65.15 386.27,64.86 386.91,63.82 387.55,62.33 388.19,60.69 388.83,59.19 389.47,58.16 390.11,57.88 390.76,58.53 391.4,59.72 392.04,60.96 392.68,61.75 393.32,61.67 393.96,61.15 394.6,61.1 395.25,61.3 395.89,61.59 396.53,61.91 397.17,62.35 397.81,62.95 398.45,63.66 399.09,64.43 399.74,65.2" fill="none" stroke="#ff0000" stroke-width="1.25" stroke-linejoin="round" clip-path="url(#c7)"/>
<g font-family='&quot;Liberation Serif&quot;, &quot;Times New Roman&quot;, serif' font-size="9.5" fill="#262626">
<text x="335.6" y="107.9" text-anchor="middle">20</text>
<text x="361.25" y="107.9" text-anchor="middle">40</text>
<text x="386.91" y="107.9" text-anchor="middle">60</text>
<text x="318.1" y="92.6" text-anchor="end">3.8</text>
<text x="318.1" y="70.5" text-anchor="end">4</text>
<text x="318.1" y="48.4" text-anchor="end">4.2</text>
</g>
<rect x="438.1" y="100.8" width="76.9" height="59" fill="#fff"/>
<path d="M458.97 159.8V158M458.97 100.8V102.6M485.21 159.8V158M485.21 100.8V102.6M511.46 159.8V158M511.46 100.8V102.6M438.1 152.78H439.9M515 152.78H513.2M438.1 130.13H439.9M515 130.13H513.2M438.1 107.48H439.9M515 107.48H513.2" stroke="#262626" stroke-width="0.8" fill="none"/>
<rect x="438.1" y="100.8" width="76.9" height="59" fill="none" stroke="#262626" stroke-width="0.9"/>
<line x1="438.1" y1="130.13" x2="515" y2="130.13" stroke="#0072bd" stroke-width="1.3" stroke-dasharray="3.7 3.7"/>
<polyline points="434.69,179.62 435.34,175.02 436,170.08 436.66,164.87 437.31,159.46 437.97,153.9 438.62,146.45 439.28,136.39 439.94,129.03 440.59,123.62 441.25,118.38 441.91,113.41 442.56,108.77 443.22,104.57 443.87,100.87 444.53,97.76 445.19,95.33 445.84,93.66 446.5,92.84 447.15,92.91 447.81,93.76 448.47,95.3 449.12,97.44 449.78,100.07 450.44,103.12 451.09,106.49 451.75,110.08 452.4,113.81 453.06,117.59 453.72,121.32 454.37,124.9 455.03,128.26 455.68,131.39 456.34,134.98 457,139 457.65,143.21 458.31,147.38 458.97,151.28 459.62,154.66 460.28,157.28 460.93,158.91 461.59,159.33 462.25,158.75 462.9,157.43 463.56,155.49 464.21,153.05 464.87,150.22 465.53,147.11 466.18,143.85 466.84,140.55 467.5,137.33 468.15,134.29 468.81,131.57 469.46,129.2 470.12,126.64 470.78,123.89 471.43,121.11 472.09,118.48 472.74,116.14 473.4,114.27 474.06,113.03 474.71,112.58 475.37,112.81 476.03,113.47 476.68,114.48 477.34,115.79 477.99,117.32 478.65,119.03 479.31,120.83 479.96,122.66 480.62,124.47 481.27,126.19 481.93,127.75 482.59,129.08 483.24,130.13 483.9,131.03 484.55,131.95 485.21,132.86 485.87,133.76 486.52,134.62 487.18,135.42 487.84,136.14 488.49,136.77 489.15,137.28 489.8,137.66 490.46,137.89 491.12,137.94 491.77,137.74 492.43,137.29 493.08,136.61 493.74,135.74 494.4,134.71 495.05,133.56 495.71,132.31 496.37,131 497.02,129.66 497.68,128.32 498.33,127.02 498.99,125.79 499.65,124.65 500.3,123.65 500.96,122.82 501.61,122.18 502.27,121.78 502.93,121.64 503.58,121.76 504.24,122.12 504.9,122.68 505.55,123.41 506.21,124.29 506.86,125.28 507.52,126.37 508.18,127.52 508.83,128.7 509.49,129.89 510.14,131.06 510.8,132.17 511.46,133.21 512.11,134.14 512.77,134.93 513.43,135.56 514.08,136 514.74,136.22 515.39,136.2 516.05,135.97 516.71,135.54 517.36,134.97 518.02,134.27 518.67,133.49" fill="none" stroke="#ff0000" stroke-width="1.25" stroke-linejoin="round" clip-path="url(#c8)"/>
<g font-family='&quot;Liberation Serif&quot;, &quot;Times New Roman&quot;, serif' font-size="9.5" fill="#262626">
<text x="458.97" y="171.6" text-anchor="middle">540</text>
<text x="485.21" y="171.6" text-anchor="middle">560</text>
<text x="511.46" y="171.6" text-anchor="middle">580</text>
<text x="435.1" y="155.91" text-anchor="end">6.8</text>
<text x="435.1" y="133.27" text-anchor="end">7</text>
<text x="435.1" y="110.62" text-anchor="end">7.2</text>
</g>
<text x="476.55" y="183.2" text-anchor="middle" font-family='&quot;Liberation Serif&quot;, &quot;Times New Roman&quot;, serif' font-size="10" fill="#262626" xml:space="preserve">Time  (s)</text>
<ellipse cx="316.4" cy="127" rx="3.3" ry="6.6" fill="none" stroke="#555" stroke-width="0.8"/>
<line x1="321.3" y1="124.3" x2="356.03" y2="111.85" stroke="#333" stroke-width="0.75"/>
<polygon points="359.8,110.5 355.73,113.98 354.45,110.4" fill="#111"/>
<ellipse cx="429" cy="73" rx="3.2" ry="6.7" fill="none" stroke="#555" stroke-width="0.8"/>
<line x1="433" y1="77.3" x2="470.91" y2="95.94" stroke="#333" stroke-width="0.75"/>
<polygon points="474.5,97.7 469.17,97.2 470.85,93.79" fill="#111"/>
<path d="M183.2 441.4V439.1M183.2 264.3V266.6M229.3 441.4V439.1M229.3 264.3V266.6M275.4 441.4V439.1M275.4 264.3V266.6M321.5 441.4V439.1M321.5 264.3V266.6M367.6 441.4V439.1M367.6 264.3V266.6M413.7 441.4V439.1M413.7 264.3V266.6M183.2 441.4H185.5M413.7 441.4H411.4M183.2 405.98H185.5M413.7 405.98H411.4M183.2 370.56H185.5M413.7 370.56H411.4M183.2 335.14H185.5M413.7 335.14H411.4M183.2 299.72H185.5M413.7 299.72H411.4M183.2 264.3H185.5M413.7 264.3H411.4" stroke="#262626" stroke-width="0.8" fill="none"/>
<rect x="183.2" y="264.3" width="230.5" height="177.1" fill="none" stroke="#262626" stroke-width="0.9"/>
<g font-family='&quot;Liberation Serif&quot;, &quot;Times New Roman&quot;, serif' font-size="9.5" fill="#262626">
<text x="183.2" y="453.6" text-anchor="middle">0</text>
<text x="229.3" y="453.6" text-anchor="middle">200</text>
<text x="275.4" y="453.6" text-anchor="middle">400</text>
<text x="321.5" y="453.6" text-anchor="middle">600</text>
<text x="367.6" y="453.6" text-anchor="middle">800</text>
<text x="413.7" y="453.6" text-anchor="middle">1000</text>
<text x="180.6" y="444.53" text-anchor="end">0</text>
<text x="180.6" y="409.11" text-anchor="end">2</text>
<text x="180.6" y="373.69" text-anchor="end">4</text>
<text x="180.6" y="338.27" text-anchor="end">6</text>
<text x="180.6" y="302.86" text-anchor="end">8</text>
<text x="180.6" y="267.44" text-anchor="end">10</text>
</g>
<text x="298.3" y="261.1" text-anchor="middle" font-family='&quot;Liberation Serif&quot;, &quot;Times New Roman&quot;, serif' font-size="9.3" fill="#111">CFB boiler water level output</text>
<text x="298.45" y="465" text-anchor="middle" font-family='&quot;Liberation Serif&quot;, &quot;Times New Roman&quot;, serif' font-size="10" fill="#262626" xml:space="preserve">Time  (s)</text>
<text transform="translate(166.6 352.85) rotate(-90)" text-anchor="middle" font-family='&quot;Liberation Serif&quot;, &quot;Times New Roman&quot;, serif' font-size="10" fill="#262626" xml:space="preserve">Water level  (m)</text>
<polyline points="183.2,370.56 298.45,370.56 298.45,317.43 413.7,317.43" fill="none" stroke="#0072bd" stroke-width="1.3" stroke-linejoin="round" stroke-dasharray="3.7 3.7" clip-path="url(#c9)"/>
<polyline points="183.2,441.4 183.34,370.81 184.01,370.81 184.4,370.81 184.63,369.67 184.85,370.17 185.06,370.17 185.28,370.65 185.52,370.84 185.73,370.91 185.95,370.55 186.19,370.37 186.44,370.15 186.65,370.15 187,370.56 187.32,370.95 187.46,370.83 187.64,370.77 187.78,370.7 187.92,370.58 188.27,370.56 188.5,370.69 188.73,370.71 188.96,370.63 189.19,370.48 189.42,370.45 189.65,370.52 189.88,370.64 190.11,370.6 190.35,370.46 190.58,370.39 190.81,370.52 191.04,370.68 191.27,370.6 191.5,370.51 191.73,370.56 191.96,370.66 192.19,370.75 192.42,370.68 192.65,370.7 192.88,370.68 193.11,370.6 193.34,370.57 193.57,370.57 193.8,370.58 194.03,370.52 194.26,370.59 194.49,370.63 194.72,370.74 194.96,370.65 195.19,370.71 195.42,370.65 195.65,370.64 195.88,370.58 196.11,370.65 196.34,370.67 196.57,370.72 196.8,370.74 197.03,370.7 197.26,370.7 197.49,370.54 197.72,370.51 197.95,370.57 198.18,370.62 198.41,370.74 198.64,370.61 198.87,370.62 199.1,370.68 199.33,370.7 199.57,370.72 199.8,370.53 200.03,370.59 200.26,370.53 200.49,370.66 200.72,370.6 200.95,370.7 201.18,370.54 201.41,370.49 201.64,370.28 201.87,370.33 202.1,370.31 202.33,370.41 202.56,370.49 202.79,370.55 203.02,370.52 203.25,370.5 203.48,370.49 203.71,370.57 203.94,370.51 204.18,370.55 204.41,370.55 204.64,370.58 204.87,370.55 205.1,370.59 205.33,370.55 205.56,370.64 205.79,370.66 206.02,370.8 206.25,370.66 206.48,370.6 206.71,370.58 206.94,370.72 207.17,370.67 207.4,370.67 207.63,370.68 207.86,370.67 208.09,370.68 208.32,370.62 208.55,370.66 208.79,370.61 209.02,370.59 209.25,370.51 209.48,370.51 209.71,370.59 209.94,370.79 210.17,370.77 210.4,370.71 210.63,370.58 210.86,370.59 211.09,370.6 211.32,370.66 211.55,370.67 211.78,370.63 212.01,370.61 212.24,370.57 212.47,370.46 212.7,370.4 212.93,370.51 213.16,370.52 213.4,370.53 213.63,370.49 213.86,370.54 214.09,370.56 214.32,370.54 214.55,370.64 214.78,370.7 215.01,370.66 215.24,370.55 215.47,370.51 215.7,370.49 215.93,370.44 216.16,370.49 216.39,370.5 216.62,370.64 216.85,370.63 217.08,370.71 217.31,370.69 217.54,370.6 217.77,370.57 218.01,370.56 218.24,370.54 218.47,370.49 218.7,370.44 218.93,370.46 219.16,370.45 219.39,370.38 219.62,370.37 219.85,370.4 220.08,370.47 220.31,370.57 220.54,370.59 220.77,370.59 221,370.49 221.23,370.37 221.46,370.42 221.69,370.55 221.92,370.53 222.15,370.46 222.38,370.44 222.62,370.47 222.85,370.54 223.08,370.59 223.31,370.7 223.54,370.73 223.77,370.52 224,370.54 224.23,370.53 224.46,370.64 224.69,370.62 224.92,370.66 225.15,370.63 225.38,370.54 225.61,370.44 225.84,370.51 226.07,370.65 226.3,370.68 226.53,370.67 226.76,370.64 227,370.75 227.23,370.58 227.46,370.49 227.69,370.44 227.92,370.51 228.15,370.48 228.38,370.57 228.61,370.66 228.84,370.77 229.07,370.58 229.3,370.55 229.53,370.54 229.76,370.59 229.99,370.46 230.22,370.31 230.45,370.34 230.68,370.52 230.91,370.48 231.14,370.51 231.37,370.49 231.6,370.66 231.84,370.56 232.07,370.46 232.3,370.44 232.53,370.53 232.76,370.56 232.99,370.57 233.22,370.39 233.45,370.43 233.68,370.53 233.91,370.71 234.14,370.62 234.37,370.57 234.6,370.64 234.83,370.76 235.06,370.73 235.29,370.52 235.52,370.55 235.75,370.51 235.98,370.53 236.21,370.51 236.45,370.57 236.68,370.5 236.91,370.35 237.14,370.29 237.37,370.38 237.6,370.41 237.83,370.48 238.06,370.5 238.29,370.63 238.52,370.62 238.75,370.62 238.98,370.39 239.21,370.4 239.44,370.32 239.67,370.41 239.9,370.41 240.13,370.41 240.36,370.64 240.59,370.62 240.82,370.64 241.06,370.65 241.29,370.73 241.52,370.72 241.75,370.58 241.98,370.58 242.21,370.67 242.44,370.69 242.67,370.57 242.9,370.52 243.13,370.5 243.36,370.59 243.59,370.62 243.82,370.52 244.05,370.46 244.28,370.41 244.51,370.51 244.74,370.61 244.97,370.7 245.2,370.65 245.44,370.56 245.67,370.57 245.9,370.71 246.13,370.71 246.36,370.68 246.59,370.6 246.82,370.62 247.05,370.58 247.28,370.54 247.51,370.46 247.74,370.42 247.97,370.36 248.2,370.37 248.43,370.45 248.66,370.53 248.89,370.55 249.12,370.55 249.35,370.51 249.58,370.47 249.81,370.5 250.04,370.65 250.28,370.65 250.51,370.6 250.74,370.44 250.97,370.6 251.2,370.49 251.43,370.49 251.66,370.41 251.89,370.54 252.12,370.58 252.35,370.59 252.58,370.58 252.81,370.66 253.04,370.57 253.27,370.55 253.5,370.48 253.73,370.55 253.96,370.7 254.19,370.67 254.42,370.7 254.65,370.57 254.89,370.59 255.12,370.64 255.35,370.56 255.58,370.61 255.81,370.61 256.04,370.72 256.27,370.66 256.5,370.56 256.73,370.54 256.96,370.65 257.19,370.63 257.42,370.66 257.65,370.48 257.88,370.56 258.11,370.53 258.34,370.65 258.57,370.62 258.8,370.52 259.03,370.49 259.26,370.46 259.5,370.38 259.73,370.38 259.96,370.51 260.19,370.71 260.42,370.79 260.65,370.75 260.88,370.73 261.11,370.73 261.34,370.66 261.57,370.77 261.8,370.77 262.03,370.68 262.26,370.45 262.49,370.33 262.72,370.43 262.95,370.39 263.18,370.39 263.41,370.41 263.64,370.6 263.88,370.64 264.11,370.69 264.34,370.66 264.57,370.7 264.8,370.65 265.03,370.63 265.26,370.53 265.49,370.61 265.72,370.6 265.95,370.54 266.18,370.45 266.41,370.36 266.64,370.41 266.87,370.33 267.1,370.36 267.33,370.52 267.56,370.62 267.79,370.69 268.02,370.7 268.25,370.71 268.49,370.77 268.72,370.77 268.95,370.73 269.18,370.65 269.41,370.59 269.64,370.67 269.87,370.7 270.1,370.68 270.33,370.64 270.56,370.61 270.79,370.62 271.02,370.57 271.25,370.53 271.48,370.48 271.71,370.55 271.94,370.62 272.17,370.61 272.4,370.58 272.63,370.55 272.86,370.73 273.09,370.89 273.33,370.87 273.56,370.69 273.79,370.43 274.02,370.41 274.25,370.41 274.48,370.5 274.71,370.63 274.94,370.59 275.17,370.63 275.4,370.51 275.63,370.55 275.86,370.5 276.09,370.47 276.32,370.52 276.55,370.56 276.78,370.67 277.01,370.66 277.24,370.53 277.47,370.5 277.7,370.4 277.94,370.46 278.17,370.39 278.4,370.41 278.63,370.53 278.86,370.55 279.09,370.5 279.32,370.48 279.55,370.51 279.78,370.65 280.01,370.59 280.24,370.65 280.47,370.51 280.7,370.55 280.93,370.58 281.16,370.57 281.39,370.48 281.62,370.35 281.85,370.43 282.08,370.52 282.31,370.56 282.55,370.55 282.78,370.47 283.01,370.4 283.24,370.43 283.47,370.52 283.7,370.59 283.93,370.53 284.16,370.41 284.39,370.42 284.62,370.52 284.85,370.53 285.08,370.47 285.31,370.39 285.54,370.55 285.77,370.62 286,370.7 286.23,370.6 286.46,370.69 286.69,370.57 286.93,370.57 287.16,370.43 287.39,370.59 287.62,370.61 287.85,370.55 288.08,370.58 288.31,370.56 288.54,370.6 288.77,370.54 289,370.51 289.23,370.57 289.46,370.45 289.69,370.47 289.92,370.44 290.15,370.39 290.38,370.37 290.61,370.3 290.84,370.5 291.07,370.59 291.3,370.62 291.53,370.49 291.77,370.45 292,370.46 292.23,370.58 292.46,370.56 292.69,370.69 292.92,370.6 293.15,370.64 293.38,370.61 293.61,370.63 293.84,370.48 294.07,370.51 294.3,370.55 294.53,370.59 294.76,370.56 294.99,370.41 295.22,370.46 295.45,370.43 295.68,370.52 295.91,370.42 296.14,370.39 296.38,370.38 296.61,370.47 296.84,370.61 297.07,370.7 297.3,370.62 297.53,370.47 297.76,370.38 297.99,370.44 298.22,370.49 298.45,370.56 298.59,318.32 299.14,315.66 301.91,316.81 302.14,316.3 302.37,316.32 302.69,317.43 303.06,318.28 303.31,318.37 303.68,317.43 303.98,316.97 304.24,316.85 304.65,317.43 304.93,317.78 305.18,317.7 305.41,317.43 305.6,317.24 305.76,317.29 305.94,317.31 306.29,317.43 306.52,317.26 306.75,317.41 306.98,317.48 307.21,317.53 307.44,317.3 307.67,317.25 307.9,317.22 308.13,317.29 308.36,317.29 308.59,317.37 308.82,317.45 309.05,317.53 309.28,317.52 309.51,317.49 309.74,317.37 309.98,317.31 310.21,317.17 310.44,317.25 310.67,317.24 310.9,317.4 311.13,317.45 311.36,317.53 311.59,317.46 311.82,317.5 312.05,317.61 312.28,317.6 312.51,317.56 312.74,317.39 312.97,317.39 313.2,317.32 313.43,317.38 313.66,317.35 313.89,317.37 314.12,317.32 314.35,317.41 314.58,317.41 314.82,317.51 315.05,317.45 315.28,317.43 315.51,317.44 315.74,317.36 315.97,317.38 316.2,317.34 316.43,317.44 316.66,317.31 316.89,317.31 317.12,317.29 317.35,317.39 317.58,317.47 317.81,317.46 318.04,317.41 318.27,317.34 318.5,317.39 318.73,317.53 318.96,317.61 319.19,317.63 319.43,317.51 319.66,317.44 319.89,317.4 320.12,317.38 320.35,317.35 320.58,317.33 320.81,317.31 321.04,317.38 321.27,317.37 321.5,317.57 321.73,317.47 321.96,317.5 322.19,317.42 322.42,317.51 322.65,317.53 322.88,317.52 323.11,317.45 323.34,317.5 323.57,317.45 323.8,317.51 324.04,317.48 324.27,317.53 324.5,317.4 324.73,317.47 324.96,317.47 325.19,317.47 325.42,317.42 325.65,317.47 325.88,317.52 326.11,317.5 326.34,317.38 326.57,317.45 326.8,317.42 327.03,317.43 327.26,317.32 327.49,317.4 327.72,317.35 327.95,317.46 328.18,317.49 328.41,317.63 328.65,317.57 328.88,317.5 329.11,317.41 329.34,317.39 329.57,317.36 329.8,317.4 330.03,317.32 330.26,317.47 330.49,317.56 330.72,317.69 330.95,317.64 331.18,317.68 331.41,317.7 331.64,317.67 331.87,317.66 332.1,317.57 332.33,317.45 332.56,317.23 332.79,317.31 333.02,317.38 333.26,317.52 333.49,317.47 333.72,317.52 333.95,317.43 334.18,317.47 334.41,317.37 334.64,317.34 334.87,317.25 335.1,317.4 335.33,317.56 335.56,317.61 335.79,317.55 336.02,317.42 336.25,317.42 336.48,317.38 336.71,317.35 336.94,317.33 337.17,317.32 337.4,317.42 337.63,317.35 337.87,317.37 338.1,317.26 338.33,317.34 338.56,317.27 338.79,317.33 339.02,317.33 339.25,317.4 339.48,317.45 339.71,317.5 339.94,317.51 340.17,317.48 340.4,317.5 340.63,317.36 340.86,317.41 341.09,317.37 341.32,317.36 341.55,317.34 341.78,317.28 342.01,317.38 342.25,317.36 342.48,317.49 342.71,317.62 342.94,317.61 343.17,317.5 343.4,317.53 343.63,317.52 343.86,317.59 344.09,317.41 344.32,317.41 344.55,317.41 344.78,317.49 345.01,317.5 345.24,317.37 345.47,317.17 345.7,317.15 345.93,317.22 346.16,317.36 346.39,317.38 346.62,317.34 346.86,317.36 347.09,317.36 347.32,317.44 347.55,317.45 347.78,317.4 348.01,317.35 348.24,317.27 348.47,317.26 348.7,317.28 348.93,317.26 349.16,317.38 349.39,317.31 349.62,317.3 349.85,317.25 350.08,317.32 350.31,317.38 350.54,317.28 350.77,317.25 351,317.29 351.23,317.32 351.46,317.33 351.7,317.41 351.93,317.48 352.16,317.49 352.39,317.51 352.62,317.47 352.85,317.52 353.08,317.39 353.31,317.5 353.54,317.51 353.77,317.64 354,317.47 354.23,317.34 354.46,317.17 354.69,317.16 354.92,317.18 355.15,317.22 355.38,317.4 355.61,317.44 355.84,317.52 356.07,317.44 356.31,317.53 356.54,317.42 356.77,317.39 357,317.41 357.23,317.46 357.46,317.47 357.69,317.45 357.92,317.5 358.15,317.54 358.38,317.61 358.61,317.69 358.84,317.62 359.07,317.46 359.3,317.36 359.53,317.46 359.76,317.52 359.99,317.53 360.22,317.42 360.45,317.44 360.69,317.5 360.92,317.47 361.15,317.42 361.38,317.38 361.61,317.49 361.84,317.53 362.07,317.42 362.3,317.32 362.53,317.3 362.76,317.47 362.99,317.43 363.22,317.31 363.45,317.17 363.68,317.22 363.91,317.42 364.14,317.57 364.37,317.58 364.6,317.49 364.83,317.4 365.06,317.46 365.29,317.48 365.53,317.47 365.76,317.46 365.99,317.42 366.22,317.44 366.45,317.4 366.68,317.33 366.91,317.27 367.14,317.36 367.37,317.45 367.6,317.56 367.83,317.44 368.06,317.49 368.29,317.4 368.52,317.41 368.75,317.31 368.98,317.41 369.21,317.47 369.44,317.56 369.67,317.48 369.9,317.41 370.14,317.44 370.37,317.51 370.6,317.58 370.83,317.52 371.06,317.38 371.29,317.38 371.52,317.34 371.75,317.49 371.98,317.39 372.21,317.4 372.44,317.28 372.67,317.37 372.9,317.5 373.13,317.64 373.36,317.72 373.59,317.57 373.82,317.51 374.05,317.41 374.28,317.42 374.51,317.37 374.75,317.34 374.98,317.35 375.21,317.46 375.44,317.56 375.67,317.47 375.9,317.44 376.13,317.32 376.36,317.32 376.59,317.29 376.82,317.35 377.05,317.53 377.28,317.45 377.51,317.51 377.74,317.51 377.97,317.58 378.2,317.56 378.43,317.51 378.66,317.48 378.89,317.46 379.12,317.47 379.36,317.42 379.59,317.27 379.82,317.23 380.05,317.33 380.28,317.53 380.51,317.49 380.74,317.47 380.97,317.41 381.2,317.56 381.43,317.61 381.66,317.68 381.89,317.51 382.12,317.46 382.35,317.54 382.58,317.56 382.81,317.48 383.04,317.26 383.27,317.45 383.5,317.51 383.74,317.54 383.97,317.34 384.2,317.36 384.43,317.51 384.66,317.58 384.89,317.58 385.12,317.44 385.35,317.38 385.58,317.37 385.81,317.36 386.04,317.46 386.27,317.48 386.5,317.53 386.73,317.44 386.96,317.42 387.19,317.34 387.42,317.35 387.65,317.39 387.88,317.46 388.11,317.53 388.35,317.53 388.58,317.62 388.81,317.49 389.04,317.38 389.27,317.39 389.5,317.41 389.73,317.4 389.96,317.33 390.19,317.37 390.42,317.29 390.65,317.25 390.88,317.26 391.11,317.32 391.34,317.4 391.57,317.5 391.8,317.65 392.03,317.59 392.26,317.47 392.49,317.43 392.72,317.51 392.95,317.55 393.19,317.52 393.42,317.4 393.65,317.42 393.88,317.41 394.11,317.45 394.34,317.44 394.57,317.48 394.8,317.54 395.03,317.45 395.26,317.21 395.49,317.08 395.72,317.27 395.95,317.45 396.18,317.45 396.41,317.44 396.64,317.48 396.87,317.57 397.1,317.53 397.33,317.55 397.56,317.46 397.8,317.44 398.03,317.4 398.26,317.36 398.49,317.38 398.72,317.48 398.95,317.54 399.18,317.38 399.41,317.25 399.64,317.27 399.87,317.47 400.1,317.53 400.33,317.46 400.56,317.32 400.79,317.23 401.02,317.35 401.25,317.49 401.48,317.59 401.71,317.62 401.94,317.52 402.17,317.5 402.41,317.46 402.64,317.46 402.87,317.37 403.1,317.34 403.33,317.36 403.56,317.4 403.79,317.51 404.02,317.55 404.25,317.57 404.48,317.48 404.71,317.46 404.94,317.47 405.17,317.38 405.4,317.4 405.63,317.36 405.86,317.41 406.09,317.41 406.32,317.38 406.55,317.36 406.78,317.31 407.02,317.39 407.25,317.49 407.48,317.56 407.71,317.52 407.94,317.58 408.17,317.59 408.4,317.66 408.63,317.59 408.86,317.6 409.09,317.48 409.32,317.41 409.55,317.3 409.78,317.41 410.01,317.48 410.24,317.56 410.47,317.4 410.7,317.26 410.93,317.27 411.16,317.33 411.39,317.31 411.63,317.33 411.86,317.38 412.09,317.43 412.32,317.32 412.55,317.37 412.78,317.36 413.01,317.34 413.24,317.24 413.47,317.33 413.7,317.43 413.7,441.4" fill="none" stroke="#ff0000" stroke-width="1.25" stroke-linejoin="round" clip-path="url(#c10)"/>
<rect x="293.7" y="275.6" width="113.5" height="27.4" rx="0.8" fill="#fff" stroke="#555" stroke-width="0.9"/>
<line x1="296" y1="282.9" x2="306.9" y2="282.9" stroke="#0072bd" stroke-width="1.3" stroke-dasharray="3.9 3.6"/>
<text x="308.2" y="283.3" font-style="italic" font-size="8.9" fill="#505050" style="stroke:none">y</text>
<text x="311.8" y="287.6" font-style="italic" font-size="6.8" fill="#505050" style="stroke:none">d</text>
<line x1="315.6" y1="280.6" x2="322.7" y2="280.6" stroke="#9a9a9a" stroke-width="0.7"/>
<text x="323.8" y="284" font-family='&quot;Liberation Sans&quot;, Arial, sans-serif' font-size="8.2" fill="#111">Desired water level</text>
<line x1="296" y1="295.8" x2="306.9" y2="295.8" stroke="#ff0000" stroke-width="1.3"/>
<text x="308.2" y="296.5" font-style="italic" font-size="8.9" fill="#505050" style="stroke:none">y</text>
<text x="311.8" y="300.2" font-style="italic" font-size="6.2" fill="#505050" style="stroke:none">mfac-oer</text>
<line x1="335.3" y1="294.2" x2="342.3" y2="294.2" stroke="#9a9a9a" stroke-width="0.7"/>
<text x="342.9" y="297.3" font-family='&quot;Liberation Sans&quot;, Arial, sans-serif' font-size="8.2" fill="#111">Water level output</text>
<rect x="206.4" y="280.4" width="78.1" height="60.1" fill="#fff"/>
<path d="M236.26 340.5V338.7M236.26 280.4V282.2M282.2 340.5V338.7M282.2 280.4V282.2M206.4 331.86H208.2M284.5 331.86H282.7M206.4 314.59H208.2M284.5 314.59H282.7M206.4 297.32H208.2M284.5 297.32H282.7" stroke="#262626" stroke-width="0.8" fill="none"/>
<rect x="206.4" y="280.4" width="78.1" height="60.1" fill="none" stroke="#262626" stroke-width="0.9"/>
<line x1="206.4" y1="314.59" x2="284.5" y2="314.59" stroke="#0072bd" stroke-width="1.3" stroke-dasharray="3.7 3.7"/>
<polyline points="193.08,319.43 206.4,319.43 214.21,319.43 218.8,297.32 223.17,307 227.35,307 231.85,316.32 236.58,320.12 240.76,321.5 245.08,314.39 249.86,310.8 254.87,306.65 259.09,306.65 266.08,314.59 272.51,322.19 275.31,319.78 278.8,318.74 281.61,317.36 284.41,314.94 291.39,314.59 295.99,317.21" fill="none" stroke="#ff0000" stroke-width="1.25" stroke-linejoin="round" clip-path="url(#c11)"/>
<g font-family='&quot;Liberation Serif&quot;, &quot;Times New Roman&quot;, serif' font-size="9.5" fill="#262626">
<text x="236.26" y="352.3" text-anchor="middle">10</text>
<text x="282.2" y="352.3" text-anchor="middle">20</text>
<text x="203.4" y="335" text-anchor="end">3.95</text>
<text x="203.4" y="317.73" text-anchor="end">4</text>
<text x="203.4" y="300.46" text-anchor="end">4.05</text>
</g>
<rect x="320.2" y="343.3" width="78.2" height="59.8" fill="#fff"/>
<path d="M342.45 403.1V401.3M342.45 343.3V345.1M365.01 403.1V401.3M365.01 343.3V345.1M387.57 403.1V401.3M387.57 343.3V345.1M320.2 398.24H322M398.4 398.24H396.6M320.2 376.16H322M398.4 376.16H396.6M320.2 354.08H322M398.4 354.08H396.6" stroke="#262626" stroke-width="0.8" fill="none"/>
<rect x="320.2" y="343.3" width="78.2" height="59.8" fill="none" stroke="#262626" stroke-width="0.9"/>
<line x1="320.2" y1="376.16" x2="398.4" y2="376.16" stroke="#0072bd" stroke-width="1.3" stroke-dasharray="3.7 3.7"/>
<polyline points="319.88,360.7 324.4,347.89 328.91,348.56 335.23,376.16 342.45,397.36 347.41,399.57 354.63,376.16 360.5,364.68 365.46,361.58 373.58,376.16 379,384.99 383.96,382.78 388.47,376.16 392.08,371.3 395.24,372.63 398.85,373.07 405.62,376.16 410.13,372.02" fill="none" stroke="#ff0000" stroke-width="1.25" stroke-linejoin="round" clip-path="url(#c12)"/>
<g font-family='&quot;Liberation Serif&quot;, &quot;Times New Roman&quot;, serif' font-size="9.5" fill="#262626">
<text x="342.45" y="414.9" text-anchor="middle">520</text>
<text x="365.01" y="414.9" text-anchor="middle">525</text>
<text x="387.57" y="414.9" text-anchor="middle">530</text>
<text x="317.2" y="401.38" text-anchor="end">6.95</text>
<text x="317.2" y="379.29" text-anchor="end">7</text>
<text x="317.2" y="357.21" text-anchor="end">7.05</text>
</g>
<ellipse cx="188.6" cy="370.5" rx="4.8" ry="7" fill="none" stroke="#555" stroke-width="0.8"/>
<line x1="193.4" y1="368" x2="241.08" y2="353.28" stroke="#333" stroke-width="0.75"/>
<polygon points="244.9,352.1 240.68,355.39 239.56,351.76" fill="#111"/>
<ellipse cx="304.3" cy="317.2" rx="4.8" ry="7" fill="none" stroke="#555" stroke-width="0.8"/>
<line x1="307.8" y1="322.9" x2="353.07" y2="340.55" stroke="#333" stroke-width="0.75"/>
<polygon points="356.8,342 351.45,341.95 352.83,338.41" fill="#111"/>
<text x="154.8" y="245.6" text-anchor="middle" font-family='&quot;Liberation Serif&quot;, &quot;Times New Roman&quot;, serif' font-size="18.4" fill="#000">(<tspan font-weight="bold">a</tspan>)</text>
<text x="412.6" y="245.6" text-anchor="middle" font-family='&quot;Liberation Serif&quot;, &quot;Times New Roman&quot;, serif' font-size="18.4" fill="#000">(<tspan font-weight="bold">b</tspan>)</text>
<text x="292.6" y="488.4" text-anchor="middle" font-family='&quot;Liberation Serif&quot;, &quot;Times New Roman&quot;, serif' font-size="18.4" fill="#000">(<tspan font-weight="bold">c</tspan>)</text></g></svg>
</body></html>
